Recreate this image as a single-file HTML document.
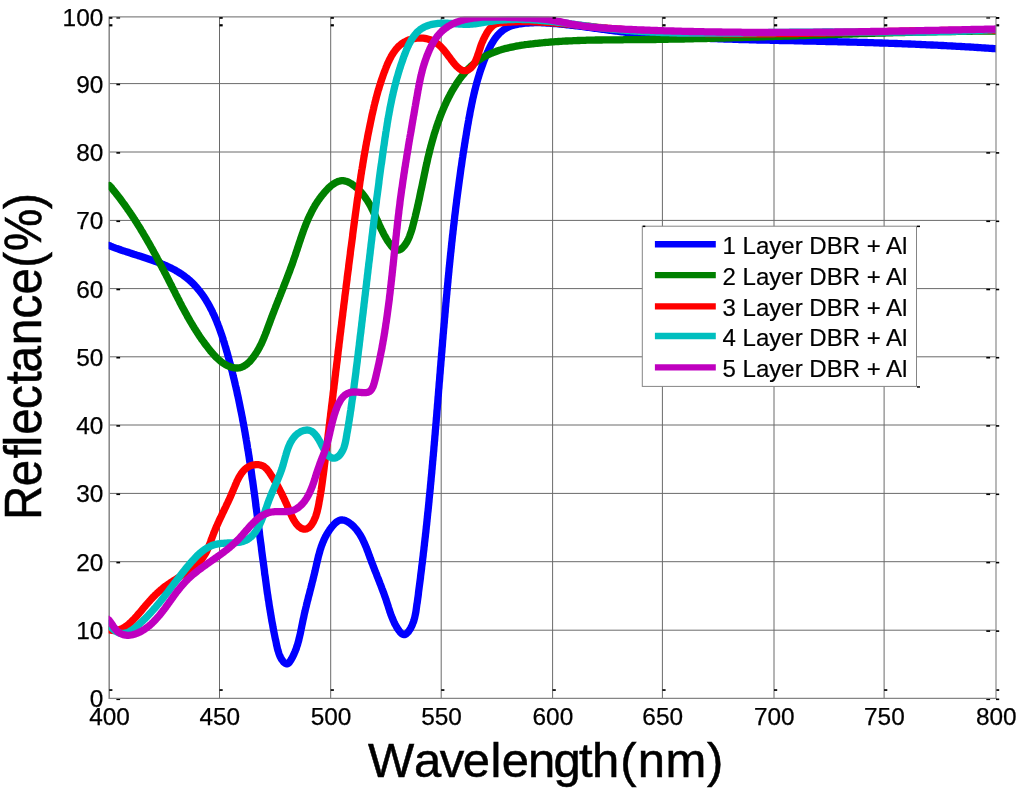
<!DOCTYPE html>
<html lang="en"><head><meta charset="utf-8"><title>Reflectance vs Wavelength</title>
<style>
html,body{margin:0;padding:0;background:#fff;}
body{width:1024px;height:792px;overflow:hidden;}
svg{display:block;}
text{font-family:"Liberation Sans",sans-serif;fill:#000;}
.tk{font-size:24.4px;stroke:#000;stroke-width:0.25px;}
.lab{font-size:49px;stroke:#000;stroke-width:0.5px;}
.leg{font-size:24px;stroke:#000;stroke-width:0.2px;}
.c{fill:none;stroke-width:7.3;stroke-linejoin:round;stroke-linecap:round;}
</style></head><body>
<svg width="1024" height="792" viewBox="0 0 1024 792">
<rect x="0" y="0" width="1024" height="792" fill="#fff"/>
<defs><clipPath id="ax"><rect x="108.6" y="16.6" width="887.4" height="682.1"/></clipPath></defs>
<g stroke="#6a6a6a" stroke-width="1">
<line x1="219.5" y1="16.9" x2="219.5" y2="698.4"/>
<line x1="330.7" y1="16.9" x2="330.7" y2="698.4"/>
<line x1="441.2" y1="16.9" x2="441.2" y2="698.4"/>
<line x1="552.6" y1="16.9" x2="552.6" y2="698.4"/>
<line x1="662.4" y1="16.9" x2="662.4" y2="698.4"/>
<line x1="774" y1="16.9" x2="774" y2="698.4"/>
<line x1="884.1" y1="16.9" x2="884.1" y2="698.4"/>
<line x1="109.2" y1="630.2" x2="996" y2="630.2"/>
<line x1="109.2" y1="561.7" x2="996" y2="561.7"/>
<line x1="109.2" y1="493.4" x2="996" y2="493.4"/>
<line x1="109.2" y1="425" x2="996" y2="425"/>
<line x1="109.2" y1="356.8" x2="996" y2="356.8"/>
<line x1="109.2" y1="288.6" x2="996" y2="288.6"/>
<line x1="109.2" y1="220.4" x2="996" y2="220.4"/>
<line x1="109.2" y1="152" x2="996" y2="152"/>
<line x1="109.2" y1="83.6" x2="996" y2="83.6"/>
</g>
<line x1="109.2" y1="16.4" x2="109.2" y2="698.9" stroke="#858585" stroke-width="1.5"/>
<g fill="#000">
<rect x="109.2" y="24.2" width="3.2" height="2.2"/>
<rect x="109.2" y="689.2" width="3.2" height="1.7"/>
<rect x="219.5" y="24.2" width="3.2" height="2.2"/>
<rect x="219.5" y="689.2" width="3.2" height="1.7"/>
<rect x="330.7" y="24.2" width="3.2" height="2.2"/>
<rect x="330.7" y="689.2" width="3.2" height="1.7"/>
<rect x="441.2" y="689.2" width="3.2" height="1.7"/>
<rect x="552.6" y="689.2" width="3.2" height="1.7"/>
<rect x="662.4" y="24.2" width="3.2" height="2.2"/>
<rect x="662.4" y="689.2" width="3.2" height="1.7"/>
<rect x="774" y="24.2" width="3.2" height="2.2"/>
<rect x="774" y="689.2" width="3.2" height="1.7"/>
<rect x="884.1" y="24.2" width="3.2" height="2.2"/>
<rect x="884.1" y="689.2" width="3.2" height="1.7"/>
<rect x="996" y="24.2" width="3.2" height="2.2"/>
<rect x="996" y="689.2" width="3.2" height="1.7"/>
<rect x="116.4" y="698.5" width="3.7" height="1.6"/>
<rect x="986.3" y="698.5" width="3.8" height="1.6"/>
<rect x="116.4" y="630.3" width="3.7" height="1.6"/>
<rect x="986.3" y="630.3" width="3.8" height="1.6"/>
<rect x="116.4" y="561.8" width="3.7" height="1.6"/>
<rect x="986.3" y="561.8" width="3.8" height="1.6"/>
<rect x="116.4" y="493.5" width="3.7" height="1.6"/>
<rect x="986.3" y="493.5" width="3.8" height="1.6"/>
<rect x="116.4" y="425.1" width="3.7" height="1.6"/>
<rect x="986.3" y="425.1" width="3.8" height="1.6"/>
<rect x="116.4" y="356.9" width="3.7" height="1.6"/>
<rect x="986.3" y="356.9" width="3.8" height="1.6"/>
<rect x="116.4" y="288.7" width="3.7" height="1.6"/>
<rect x="986.3" y="288.7" width="3.8" height="1.6"/>
<rect x="116.4" y="220.5" width="3.7" height="1.6"/>
<rect x="986.3" y="220.5" width="3.8" height="1.6"/>
<rect x="116.4" y="152.1" width="3.7" height="1.6"/>
<rect x="986.3" y="152.1" width="3.8" height="1.6"/>
<rect x="116.4" y="83.7" width="3.7" height="1.6"/>
<rect x="986.3" y="83.7" width="3.8" height="1.6"/>
<rect x="116.4" y="17" width="3.7" height="1.6"/>
<rect x="986.3" y="17" width="3.8" height="1.6"/>
</g>
<g clip-path="url(#ax)">
<path class="c" stroke="#0000ff" d="M109.3 245.5 L110.5 246.1 L111.8 246.6 L113.0 247.1 L114.3 247.6 L115.6 248.1 L117.0 248.6 L118.3 249.0 L119.7 249.5 L121.0 250.0 L122.4 250.5 L123.8 250.9 L125.2 251.4 L126.6 251.9 L128.1 252.3 L129.5 252.8 L130.9 253.2 L132.4 253.7 L133.8 254.2 L135.3 254.6 L136.7 255.1 L138.2 255.6 L139.7 256.0 L141.2 256.5 L142.6 257.0 L144.1 257.5 L145.6 258.0 L147.1 258.5 L148.5 259.0 L150.0 259.5 L151.5 260.0 L152.9 260.5 L154.4 261.0 L155.9 261.6 L157.3 262.1 L158.8 262.7 L160.2 263.2 L161.6 263.8 L163.1 264.4 L164.5 265.0 L165.9 265.6 L167.3 266.3 L168.7 266.9 L170.0 267.6 L171.4 268.2 L172.7 268.9 L174.0 269.6 L175.4 270.3 L176.6 271.1 L177.9 271.8 L179.2 272.6 L180.4 273.4 L181.7 274.2 L182.9 275.0 L184.0 275.9 L185.2 276.7 L186.3 277.6 L187.5 278.5 L188.6 279.5 L189.7 280.4 L190.7 281.4 L191.8 282.3 L192.8 283.3 L193.8 284.4 L194.8 285.4 L195.7 286.4 L196.7 287.5 L197.6 288.6 L198.5 289.7 L199.4 290.8 L200.3 291.9 L201.2 293.1 L202.0 294.2 L202.9 295.4 L203.7 296.6 L204.5 297.8 L205.3 299.0 L206.1 300.2 L206.8 301.5 L207.6 302.7 L208.3 304.0 L209.0 305.3 L209.7 306.6 L210.4 307.9 L211.1 309.2 L211.8 310.5 L212.4 311.8 L213.0 313.2 L213.7 314.5 L214.3 315.9 L214.9 317.2 L215.5 318.6 L216.1 320.0 L216.7 321.4 L217.2 322.8 L217.8 324.2 L218.3 325.6 L218.9 327.0 L219.4 328.4 L219.9 329.9 L220.4 331.3 L220.9 332.7 L221.4 334.2 L221.9 335.6 L222.4 337.1 L222.9 338.5 L223.3 340.0 L223.8 341.4 L224.2 342.9 L224.7 344.4 L225.1 345.8 L225.6 347.3 L226.0 348.8 L226.4 350.3 L226.8 351.7 L227.3 353.2 L227.7 354.7 L228.1 356.2 L228.5 357.6 L228.9 359.1 L229.3 360.6 L229.7 362.1 L230.1 363.5 L230.5 365.0 L230.8 366.5 L231.2 368.0 L231.6 369.4 L232.0 370.9 L232.4 372.4 L232.7 373.9 L233.1 375.3 L233.4 376.8 L233.8 378.3 L234.2 379.8 L234.5 381.2 L234.9 382.7 L235.2 384.2 L235.5 385.6 L235.9 387.1 L236.2 388.6 L236.6 390.1 L236.9 391.5 L237.2 393.0 L237.5 394.5 L237.9 396.0 L238.2 397.4 L238.5 398.9 L238.8 400.4 L239.1 401.8 L239.4 403.3 L239.7 404.8 L240.0 406.3 L240.3 407.7 L240.6 409.2 L240.9 410.7 L241.2 412.1 L241.5 413.6 L241.8 415.1 L242.1 416.6 L242.4 418.0 L242.6 419.5 L242.9 421.0 L243.2 422.4 L243.5 423.9 L243.7 425.4 L244.0 426.9 L244.3 428.3 L244.5 429.8 L244.8 431.3 L245.1 432.7 L245.3 434.2 L245.6 435.7 L245.8 437.2 L246.1 438.6 L246.3 440.1 L246.6 441.6 L246.8 443.0 L247.1 444.5 L247.3 446.0 L247.5 447.5 L247.8 448.9 L248.0 450.4 L248.3 451.9 L248.5 453.3 L248.7 454.8 L249.0 456.3 L249.2 457.8 L249.4 459.2 L249.6 460.7 L249.9 462.2 L250.1 463.6 L250.3 465.1 L250.5 466.6 L250.7 468.1 L251.0 469.5 L251.2 471.0 L251.4 472.5 L251.6 474.0 L251.8 475.4 L252.0 476.9 L252.2 478.4 L252.4 479.8 L252.7 481.3 L252.9 482.8 L253.1 484.3 L253.3 485.7 L253.5 487.2 L253.7 488.7 L253.9 490.2 L254.1 491.6 L254.3 493.1 L254.5 494.6 L254.7 496.1 L254.9 497.5 L255.1 499.0 L255.3 500.5 L255.5 502.0 L255.7 503.4 L255.8 504.9 L256.0 506.4 L256.2 507.9 L256.4 509.3 L256.6 510.8 L256.8 512.3 L257.0 513.8 L257.2 515.2 L257.4 516.7 L257.6 518.2 L257.8 519.7 L258.0 521.2 L258.1 522.6 L258.3 524.1 L258.5 525.6 L258.7 527.1 L258.9 528.5 L259.1 530.0 L259.3 531.5 L259.5 533.0 L259.6 534.5 L259.8 535.9 L260.0 537.4 L260.2 538.9 L260.4 540.4 L260.6 541.9 L260.8 543.3 L261.0 544.8 L261.2 546.3 L261.4 547.8 L261.5 549.3 L261.7 550.8 L261.9 552.2 L262.1 553.7 L262.3 555.2 L262.5 556.7 L262.7 558.2 L262.9 559.7 L263.1 561.1 L263.3 562.6 L263.5 564.1 L263.7 565.6 L263.9 567.1 L264.1 568.6 L264.3 570.1 L264.5 571.5 L264.6 573.0 L264.8 574.5 L265.1 576.0 L265.3 577.5 L265.5 579.0 L265.7 580.5 L265.9 582.0 L266.1 583.4 L266.3 584.9 L266.5 586.4 L266.7 587.9 L266.9 589.4 L267.1 590.9 L267.3 592.4 L267.5 593.9 L267.8 595.4 L268.0 596.9 L268.2 598.4 L268.4 599.9 L268.7 601.3 L268.9 602.8 L269.1 604.3 L269.3 605.8 L269.6 607.3 L269.8 608.8 L270.1 610.3 L270.3 611.8 L270.6 613.3 L270.8 614.8 L271.1 616.3 L271.3 617.8 L271.6 619.3 L271.8 620.8 L272.1 622.3 L272.4 623.8 L272.7 625.3 L272.9 626.8 L273.2 628.3 L273.5 629.8 L273.8 631.4 L274.1 632.9 L274.4 634.4 L274.7 635.9 L275.0 637.4 L275.3 638.9 L275.7 640.4 L276.0 641.9 L276.3 643.4 L276.6 645.0 L277.0 646.5 L277.3 648.0 L277.7 649.5 L278.1 650.9 L278.6 652.4 L279.0 653.8 L279.5 655.1 L280.1 656.5 L280.7 657.7 L281.4 659.0 L282.2 660.1 L283.0 661.2 L283.9 662.2 L284.9 663.1 L285.9 663.7 L286.9 663.9 L287.8 663.7 L288.7 663.0 L289.6 662.0 L290.4 660.8 L291.2 659.5 L291.9 658.2 L292.6 656.9 L293.3 655.6 L293.9 654.2 L294.5 652.8 L295.1 651.5 L295.6 650.1 L296.2 648.7 L296.6 647.2 L297.1 645.8 L297.6 644.4 L298.0 642.9 L298.4 641.5 L298.8 640.0 L299.1 638.5 L299.5 637.1 L299.8 635.6 L300.2 634.1 L300.5 632.6 L300.8 631.1 L301.1 629.6 L301.4 628.1 L301.7 626.6 L302.0 625.1 L302.3 623.7 L302.6 622.2 L302.9 620.7 L303.2 619.2 L303.6 617.7 L303.9 616.2 L304.2 614.8 L304.5 613.3 L304.9 611.8 L305.2 610.4 L305.6 608.9 L305.9 607.4 L306.3 606.0 L306.6 604.5 L307.0 603.1 L307.3 601.6 L307.7 600.2 L308.1 598.7 L308.4 597.3 L308.8 595.8 L309.2 594.4 L309.6 592.9 L309.9 591.5 L310.3 590.1 L310.7 588.6 L311.0 587.2 L311.4 585.7 L311.8 584.3 L312.1 582.9 L312.5 581.4 L312.9 580.0 L313.2 578.5 L313.6 577.1 L313.9 575.6 L314.3 574.2 L314.6 572.8 L315.0 571.3 L315.3 569.9 L315.6 568.4 L316.0 566.9 L316.3 565.5 L316.6 564.0 L317.0 562.6 L317.3 561.1 L317.6 559.7 L318.0 558.2 L318.3 556.8 L318.7 555.3 L319.1 553.9 L319.5 552.5 L319.9 551.0 L320.3 549.6 L320.8 548.2 L321.2 546.8 L321.7 545.4 L322.3 544.0 L322.8 542.6 L323.4 541.2 L324.0 539.8 L324.6 538.4 L325.3 537.1 L326.0 535.8 L326.7 534.4 L327.5 533.1 L328.3 531.8 L329.2 530.5 L330.0 529.2 L331.0 527.9 L332.0 526.7 L333.0 525.5 L334.1 524.3 L335.2 523.1 L336.4 522.1 L337.6 521.3 L338.8 520.6 L340.1 520.1 L341.4 519.9 L342.7 520.0 L344.0 520.2 L345.3 520.6 L346.6 521.2 L347.9 521.9 L349.1 522.7 L350.3 523.6 L351.5 524.5 L352.6 525.5 L353.7 526.5 L354.7 527.6 L355.7 528.7 L356.6 529.8 L357.5 531.0 L358.4 532.2 L359.2 533.4 L360.0 534.7 L360.8 536.0 L361.5 537.3 L362.2 538.6 L362.9 539.9 L363.5 541.3 L364.2 542.7 L364.8 544.1 L365.4 545.5 L366.0 546.9 L366.6 548.3 L367.1 549.8 L367.7 551.2 L368.2 552.6 L368.7 554.1 L369.3 555.5 L369.8 557.0 L370.3 558.4 L370.9 559.8 L371.4 561.3 L371.9 562.7 L372.5 564.1 L373.0 565.5 L373.5 566.9 L374.1 568.3 L374.6 569.7 L375.2 571.1 L375.7 572.4 L376.3 573.8 L376.8 575.2 L377.3 576.6 L377.9 578.0 L378.4 579.3 L379.0 580.7 L379.5 582.1 L380.0 583.5 L380.6 584.8 L381.1 586.2 L381.6 587.6 L382.1 589.0 L382.6 590.3 L383.2 591.7 L383.7 593.1 L384.2 594.5 L384.7 595.9 L385.2 597.3 L385.7 598.7 L386.2 600.1 L386.6 601.6 L387.1 603.0 L387.6 604.4 L388.1 605.9 L388.5 607.3 L389.0 608.8 L389.5 610.2 L389.9 611.7 L390.4 613.1 L390.9 614.6 L391.5 616.0 L392.0 617.4 L392.6 618.8 L393.2 620.2 L393.8 621.6 L394.4 623.0 L395.1 624.4 L395.9 625.7 L396.6 627.0 L397.4 628.3 L398.3 629.6 L399.2 630.9 L400.1 632.1 L401.1 633.1 L402.1 634.0 L403.2 634.5 L404.2 634.7 L405.3 634.4 L406.3 633.8 L407.3 632.9 L408.3 631.8 L409.2 630.5 L410.1 629.2 L410.9 627.7 L411.6 626.3 L412.3 624.9 L412.8 623.4 L413.4 622.0 L413.9 620.5 L414.3 619.1 L414.7 617.6 L415.0 616.1 L415.3 614.7 L415.6 613.2 L415.9 611.7 L416.1 610.2 L416.3 608.7 L416.5 607.3 L416.7 605.8 L416.9 604.3 L417.2 602.8 L417.4 601.3 L417.6 599.8 L417.8 598.3 L418.0 596.9 L418.2 595.4 L418.4 593.9 L418.5 592.4 L418.7 590.9 L418.9 589.4 L419.1 587.9 L419.3 586.5 L419.5 585.0 L419.7 583.5 L419.9 582.0 L420.1 580.5 L420.3 579.0 L420.5 577.5 L420.6 576.1 L420.8 574.6 L421.0 573.1 L421.2 571.6 L421.4 570.1 L421.6 568.6 L421.7 567.1 L421.9 565.6 L422.1 564.2 L422.3 562.7 L422.5 561.2 L422.6 559.7 L422.8 558.2 L423.0 556.7 L423.2 555.2 L423.3 553.7 L423.5 552.3 L423.7 550.8 L423.9 549.3 L424.0 547.8 L424.2 546.3 L424.4 544.8 L424.5 543.3 L424.7 541.8 L424.9 540.3 L425.0 538.9 L425.2 537.4 L425.4 535.9 L425.5 534.4 L425.7 532.9 L425.9 531.4 L426.0 529.9 L426.2 528.4 L426.3 526.9 L426.5 525.5 L426.7 524.0 L426.8 522.5 L427.0 521.0 L427.1 519.5 L427.3 518.0 L427.4 516.5 L427.6 515.0 L427.7 513.5 L427.9 512.0 L428.1 510.6 L428.2 509.1 L428.4 507.6 L428.5 506.1 L428.7 504.6 L428.8 503.1 L429.0 501.6 L429.1 500.1 L429.2 498.6 L429.4 497.1 L429.5 495.6 L429.7 494.2 L429.8 492.7 L430.0 491.2 L430.1 489.7 L430.3 488.2 L430.4 486.7 L430.5 485.2 L430.7 483.7 L430.8 482.2 L431.0 480.7 L431.1 479.2 L431.2 477.8 L431.4 476.3 L431.5 474.8 L431.7 473.3 L431.8 471.8 L431.9 470.3 L432.1 468.8 L432.2 467.3 L432.3 465.8 L432.5 464.3 L432.6 462.8 L432.7 461.3 L432.9 459.8 L433.0 458.3 L433.1 456.9 L433.3 455.4 L433.4 453.9 L433.5 452.4 L433.7 450.9 L433.8 449.4 L433.9 447.9 L434.0 446.4 L434.2 444.9 L434.3 443.4 L434.4 441.9 L434.6 440.4 L434.7 438.9 L434.8 437.4 L434.9 435.9 L435.1 434.5 L435.2 433.0 L435.3 431.5 L435.4 430.0 L435.6 428.5 L435.7 427.0 L435.8 425.5 L435.9 424.0 L436.1 422.5 L436.2 421.0 L436.3 419.5 L436.4 418.0 L436.6 416.5 L436.7 415.0 L436.8 413.5 L436.9 412.0 L437.0 410.5 L437.2 409.1 L437.3 407.6 L437.4 406.1 L437.5 404.6 L437.7 403.1 L437.8 401.6 L437.9 400.1 L438.0 398.6 L438.1 397.1 L438.3 395.6 L438.4 394.1 L438.5 392.6 L438.6 391.1 L438.7 389.6 L438.9 388.1 L439.0 386.6 L439.1 385.1 L439.2 383.6 L439.3 382.2 L439.5 380.7 L439.6 379.2 L439.7 377.7 L439.8 376.2 L439.9 374.7 L440.1 373.2 L440.2 371.7 L440.3 370.2 L440.4 368.7 L440.5 367.2 L440.7 365.7 L440.8 364.2 L440.9 362.7 L441.0 361.2 L441.2 359.7 L441.3 358.2 L441.4 356.7 L441.5 355.2 L441.6 353.8 L441.8 352.3 L441.9 350.8 L442.0 349.3 L442.1 347.8 L442.3 346.3 L442.4 344.8 L442.5 343.3 L442.6 341.8 L442.7 340.3 L442.9 338.8 L443.0 337.3 L443.1 335.8 L443.2 334.3 L443.4 332.8 L443.5 331.3 L443.6 329.8 L443.7 328.4 L443.9 326.9 L444.0 325.4 L444.1 323.9 L444.3 322.4 L444.4 320.9 L444.5 319.4 L444.6 317.9 L444.8 316.4 L444.9 314.9 L445.0 313.4 L445.2 311.9 L445.3 310.4 L445.4 308.9 L445.5 307.4 L445.7 305.9 L445.8 304.5 L445.9 303.0 L446.1 301.5 L446.2 300.0 L446.3 298.5 L446.5 297.0 L446.6 295.5 L446.8 294.0 L446.9 292.5 L447.0 291.0 L447.2 289.5 L447.3 288.0 L447.4 286.5 L447.6 285.0 L447.7 283.6 L447.9 282.1 L448.0 280.6 L448.1 279.1 L448.3 277.6 L448.4 276.1 L448.6 274.6 L448.7 273.1 L448.9 271.6 L449.0 270.1 L449.1 268.6 L449.3 267.1 L449.4 265.7 L449.6 264.2 L449.7 262.7 L449.9 261.2 L450.0 259.7 L450.2 258.2 L450.3 256.7 L450.5 255.2 L450.6 253.7 L450.8 252.2 L451.0 250.7 L451.1 249.3 L451.3 247.8 L451.4 246.3 L451.6 244.8 L451.7 243.3 L451.9 241.8 L452.1 240.3 L452.2 238.8 L452.4 237.3 L452.5 235.8 L452.7 234.4 L452.9 232.9 L453.0 231.4 L453.2 229.9 L453.4 228.4 L453.5 226.9 L453.7 225.4 L453.9 223.9 L454.1 222.4 L454.2 221.0 L454.4 219.5 L454.6 218.0 L454.7 216.5 L454.9 215.0 L455.1 213.5 L455.3 212.0 L455.5 210.5 L455.6 209.1 L455.8 207.6 L456.0 206.1 L456.2 204.6 L456.4 203.1 L456.6 201.6 L456.7 200.1 L456.9 198.7 L457.1 197.2 L457.3 195.7 L457.5 194.2 L457.7 192.7 L457.9 191.2 L458.1 189.7 L458.3 188.3 L458.5 186.8 L458.7 185.3 L458.9 183.8 L459.1 182.3 L459.3 180.8 L459.5 179.3 L459.7 177.9 L459.9 176.4 L460.1 174.9 L460.3 173.4 L460.5 171.9 L460.7 170.4 L460.9 169.0 L461.1 167.5 L461.4 166.0 L461.6 164.5 L461.8 163.0 L462.0 161.5 L462.2 160.1 L462.4 158.6 L462.7 157.1 L462.9 155.6 L463.1 154.1 L463.3 152.7 L463.6 151.2 L463.8 149.7 L464.0 148.2 L464.3 146.7 L464.5 145.3 L464.7 143.8 L465.0 142.3 L465.2 140.8 L465.4 139.3 L465.7 137.9 L465.9 136.4 L466.2 134.9 L466.4 133.4 L466.6 131.9 L466.9 130.5 L467.1 129.0 L467.4 127.5 L467.6 126.0 L467.9 124.5 L468.2 123.1 L468.4 121.6 L468.7 120.1 L468.9 118.6 L469.2 117.2 L469.5 115.7 L469.8 114.2 L470.0 112.7 L470.3 111.3 L470.6 109.8 L470.9 108.3 L471.2 106.9 L471.5 105.4 L471.8 103.9 L472.1 102.5 L472.4 101.0 L472.7 99.5 L473.0 98.1 L473.4 96.6 L473.7 95.1 L474.0 93.7 L474.4 92.2 L474.7 90.8 L475.1 89.3 L475.5 87.9 L475.8 86.4 L476.2 85.0 L476.6 83.5 L477.0 82.1 L477.4 80.6 L477.8 79.2 L478.3 77.7 L478.7 76.3 L479.1 74.9 L479.6 73.4 L480.0 72.0 L480.5 70.6 L481.0 69.1 L481.5 67.7 L482.0 66.3 L482.5 64.9 L483.0 63.5 L483.5 62.0 L484.1 60.6 L484.6 59.2 L485.2 57.8 L485.7 56.4 L486.3 55.0 L486.9 53.6 L487.5 52.2 L488.2 50.8 L488.8 49.5 L489.5 48.1 L490.1 46.7 L490.8 45.4 L491.5 44.1 L492.3 42.8 L493.1 41.5 L493.9 40.3 L494.7 39.1 L495.5 37.9 L496.4 36.8 L497.3 35.6 L498.3 34.6 L499.3 33.5 L500.3 32.5 L501.4 31.6 L502.5 30.7 L503.6 29.8 L504.8 29.0 L506.0 28.3 L507.3 27.6 L508.6 27.0 L510.0 26.4 L511.4 25.9 L512.9 25.4 L514.4 25.0 L515.9 24.6 L517.4 24.3 L519.0 24.0 L520.5 23.8 L522.1 23.6 L523.7 23.4 L525.3 23.2 L526.8 23.1 L528.4 23.0 L529.9 22.9 L531.5 22.8 L533.0 22.8 L534.5 22.7 L536.0 22.7 L537.5 22.7 L539.0 22.7 L540.5 22.7 L542.0 22.8 L543.5 22.8 L545.0 22.9 L546.5 23.0 L548.0 23.1 L549.4 23.2 L550.9 23.3 L552.4 23.4 L553.8 23.5 L555.3 23.6 L556.8 23.7 L558.2 23.9 L559.7 24.0 L561.2 24.1 L562.6 24.3 L564.1 24.4 L565.6 24.6 L567.0 24.8 L568.5 24.9 L570.0 25.1 L571.5 25.3 L572.9 25.4 L574.4 25.6 L575.9 25.8 L577.3 26.0 L578.8 26.2 L580.3 26.3 L581.8 26.5 L583.2 26.7 L584.7 26.9 L586.2 27.1 L587.6 27.3 L589.1 27.5 L590.6 27.7 L592.1 27.9 L593.5 28.1 L595.0 28.3 L596.5 28.5 L598.0 28.7 L599.4 28.9 L600.9 29.1 L602.4 29.3 L603.9 29.5 L605.3 29.7 L606.8 29.9 L608.3 30.1 L609.8 30.3 L611.2 30.5 L612.7 30.7 L614.2 30.9 L615.7 31.0 L617.1 31.2 L618.6 31.4 L620.1 31.6 L621.6 31.8 L623.1 31.9 L624.5 32.1 L626.0 32.3 L627.5 32.4 L629.0 32.6 L630.5 32.8 L632.0 32.9 L633.4 33.1 L634.9 33.2 L636.4 33.4 L637.9 33.5 L639.4 33.7 L640.9 33.8 L642.3 34.0 L643.8 34.1 L645.3 34.2 L646.8 34.4 L648.3 34.5 L649.8 34.6 L651.3 34.8 L652.7 34.9 L654.2 35.0 L655.7 35.2 L657.2 35.3 L658.7 35.4 L660.2 35.5 L661.7 35.6 L663.2 35.7 L664.6 35.8 L666.1 36.0 L667.6 36.1 L669.1 36.2 L670.6 36.3 L672.1 36.4 L673.6 36.5 L675.1 36.6 L676.6 36.7 L678.1 36.8 L679.5 36.9 L681.0 37.0 L682.5 37.0 L684.0 37.1 L685.5 37.2 L687.0 37.3 L688.5 37.4 L690.0 37.5 L691.5 37.6 L693.0 37.6 L694.5 37.7 L696.0 37.8 L697.5 37.9 L699.0 37.9 L700.4 38.0 L701.9 38.1 L703.4 38.1 L704.9 38.2 L706.4 38.3 L707.9 38.3 L709.4 38.4 L710.9 38.5 L712.4 38.5 L713.9 38.6 L715.4 38.7 L716.9 38.7 L718.4 38.8 L719.9 38.8 L721.4 38.9 L722.9 38.9 L724.4 39.0 L725.9 39.0 L727.4 39.1 L728.9 39.1 L730.4 39.2 L731.9 39.2 L733.4 39.3 L734.9 39.3 L736.4 39.4 L737.9 39.4 L739.4 39.5 L740.8 39.5 L742.3 39.6 L743.8 39.6 L745.3 39.6 L746.8 39.7 L748.3 39.7 L749.8 39.8 L751.3 39.8 L752.8 39.8 L754.3 39.9 L755.8 39.9 L757.3 40.0 L758.8 40.0 L760.3 40.0 L761.8 40.1 L763.3 40.1 L764.8 40.1 L766.3 40.2 L767.8 40.2 L769.3 40.2 L770.8 40.3 L772.3 40.3 L773.8 40.3 L775.3 40.4 L776.8 40.4 L778.3 40.4 L779.8 40.5 L781.3 40.5 L782.8 40.5 L784.3 40.6 L785.8 40.6 L787.3 40.6 L788.8 40.6 L790.3 40.7 L791.8 40.7 L793.3 40.7 L794.8 40.8 L796.3 40.8 L797.8 40.8 L799.3 40.9 L800.8 40.9 L802.3 40.9 L803.8 41.0 L805.3 41.0 L806.8 41.0 L808.3 41.1 L809.8 41.1 L811.3 41.1 L812.8 41.2 L814.3 41.2 L815.8 41.2 L817.3 41.3 L818.8 41.3 L820.3 41.3 L821.8 41.4 L823.3 41.4 L824.8 41.4 L826.3 41.5 L827.8 41.5 L829.3 41.5 L830.8 41.6 L832.3 41.6 L833.8 41.6 L835.3 41.7 L836.8 41.7 L838.3 41.8 L839.8 41.8 L841.3 41.8 L842.8 41.9 L844.3 41.9 L845.8 41.9 L847.3 42.0 L848.8 42.0 L850.3 42.1 L851.8 42.1 L853.3 42.1 L854.8 42.2 L856.3 42.2 L857.8 42.3 L859.3 42.3 L860.8 42.4 L862.3 42.4 L863.8 42.4 L865.3 42.5 L866.8 42.5 L868.3 42.6 L869.8 42.6 L871.3 42.7 L872.8 42.7 L874.3 42.8 L875.7 42.8 L877.2 42.9 L878.7 42.9 L880.2 43.0 L881.7 43.0 L883.2 43.1 L884.7 43.1 L886.2 43.2 L887.7 43.2 L889.2 43.3 L890.7 43.3 L892.2 43.4 L893.7 43.4 L895.2 43.5 L896.7 43.5 L898.2 43.6 L899.7 43.6 L901.2 43.7 L902.7 43.8 L904.2 43.8 L905.7 43.9 L907.2 43.9 L908.7 44.0 L910.2 44.0 L911.7 44.1 L913.2 44.2 L914.7 44.2 L916.2 44.3 L917.7 44.4 L919.2 44.4 L920.7 44.5 L922.2 44.6 L923.7 44.6 L925.2 44.7 L926.7 44.8 L928.2 44.8 L929.7 44.9 L931.2 45.0 L932.6 45.0 L934.1 45.1 L935.6 45.2 L937.1 45.2 L938.6 45.3 L940.1 45.4 L941.6 45.5 L943.1 45.5 L944.6 45.6 L946.1 45.7 L947.6 45.8 L949.1 45.8 L950.6 45.9 L952.1 46.0 L953.6 46.1 L955.1 46.2 L956.6 46.3 L958.1 46.3 L959.6 46.4 L961.1 46.5 L962.6 46.6 L964.1 46.7 L965.6 46.8 L967.1 46.9 L968.6 46.9 L970.1 47.0 L971.6 47.1 L973.1 47.2 L974.6 47.3 L976.1 47.4 L977.5 47.5 L979.0 47.6 L980.5 47.7 L982.0 47.8 L983.5 47.9 L985.0 48.0 L986.5 48.1 L988.0 48.2 L989.5 48.3 L991.0 48.4 L992.5 48.5 L994.0 48.6 L995.5 48.7 L997.0 48.8"/>
<path class="c" stroke="#008000" d="M109.5 185.6 L110.5 186.7 L111.5 187.8 L112.4 189.0 L113.3 190.1 L114.3 191.3 L115.2 192.4 L116.1 193.6 L117.1 194.8 L118.0 196.0 L118.9 197.1 L119.8 198.3 L120.7 199.5 L121.6 200.7 L122.4 201.9 L123.3 203.1 L124.2 204.3 L125.1 205.5 L125.9 206.7 L126.8 207.9 L127.6 209.2 L128.5 210.4 L129.3 211.6 L130.2 212.8 L131.0 214.1 L131.8 215.3 L132.7 216.6 L133.5 217.8 L134.3 219.1 L135.1 220.3 L135.9 221.6 L136.7 222.8 L137.5 224.1 L138.3 225.4 L139.1 226.6 L139.9 227.9 L140.7 229.2 L141.4 230.5 L142.2 231.7 L143.0 233.0 L143.7 234.3 L144.5 235.6 L145.3 236.9 L146.0 238.2 L146.8 239.5 L147.5 240.8 L148.3 242.1 L149.0 243.4 L149.8 244.7 L150.5 246.0 L151.2 247.3 L152.0 248.6 L152.7 249.9 L153.4 251.3 L154.1 252.6 L154.9 253.9 L155.6 255.2 L156.3 256.5 L157.0 257.8 L157.7 259.2 L158.4 260.5 L159.1 261.8 L159.8 263.2 L160.5 264.5 L161.2 265.8 L161.9 267.1 L162.6 268.5 L163.3 269.8 L164.0 271.1 L164.7 272.5 L165.4 273.8 L166.1 275.1 L166.8 276.5 L167.5 277.8 L168.2 279.2 L168.8 280.5 L169.5 281.8 L170.2 283.2 L170.9 284.5 L171.6 285.8 L172.2 287.2 L172.9 288.5 L173.6 289.9 L174.3 291.2 L175.0 292.5 L175.6 293.9 L176.3 295.2 L177.0 296.5 L177.7 297.9 L178.4 299.2 L179.1 300.5 L179.7 301.9 L180.4 303.2 L181.1 304.5 L181.8 305.9 L182.5 307.2 L183.2 308.5 L183.9 309.8 L184.6 311.1 L185.3 312.4 L186.1 313.8 L186.8 315.1 L187.5 316.4 L188.2 317.7 L189.0 319.0 L189.7 320.3 L190.4 321.6 L191.2 322.8 L192.0 324.1 L192.7 325.4 L193.5 326.7 L194.3 328.0 L195.1 329.2 L195.9 330.5 L196.7 331.7 L197.5 333.0 L198.3 334.2 L199.1 335.5 L199.9 336.7 L200.8 338.0 L201.6 339.2 L202.5 340.4 L203.4 341.6 L204.2 342.8 L205.1 344.0 L206.0 345.2 L207.0 346.4 L207.9 347.6 L208.8 348.8 L209.8 350.0 L210.7 351.2 L211.7 352.3 L212.7 353.5 L213.7 354.6 L214.7 355.7 L215.7 356.8 L216.8 357.9 L217.9 358.9 L219.0 359.9 L220.1 360.9 L221.3 361.8 L222.5 362.7 L223.7 363.5 L224.9 364.3 L226.2 365.0 L227.6 365.7 L228.9 366.3 L230.3 366.8 L231.8 367.3 L233.2 367.6 L234.7 367.9 L236.1 368.0 L237.5 368.0 L238.9 367.9 L240.3 367.6 L241.6 367.2 L242.9 366.7 L244.1 366.0 L245.4 365.2 L246.5 364.4 L247.7 363.4 L248.8 362.4 L249.9 361.3 L250.9 360.1 L251.9 358.9 L252.9 357.7 L253.8 356.5 L254.7 355.2 L255.6 353.9 L256.4 352.6 L257.2 351.3 L258.0 350.0 L258.7 348.7 L259.4 347.4 L260.1 346.1 L260.8 344.7 L261.5 343.4 L262.1 342.0 L262.7 340.6 L263.3 339.3 L263.9 337.9 L264.4 336.5 L265.0 335.1 L265.5 333.8 L266.1 332.4 L266.6 331.0 L267.1 329.6 L267.6 328.2 L268.1 326.8 L268.6 325.4 L269.2 324.0 L269.7 322.6 L270.2 321.2 L270.7 319.8 L271.2 318.4 L271.8 317.0 L272.3 315.6 L272.8 314.2 L273.4 312.8 L273.9 311.4 L274.4 310.0 L275.0 308.6 L275.5 307.2 L276.1 305.8 L276.6 304.4 L277.2 303.0 L277.7 301.6 L278.3 300.2 L278.8 298.8 L279.4 297.5 L279.9 296.1 L280.5 294.7 L281.0 293.3 L281.6 291.9 L282.1 290.5 L282.7 289.1 L283.2 287.7 L283.8 286.3 L284.3 284.9 L284.9 283.5 L285.4 282.1 L286.0 280.7 L286.5 279.3 L287.0 277.9 L287.6 276.5 L288.1 275.1 L288.6 273.7 L289.2 272.3 L289.7 270.9 L290.2 269.5 L290.7 268.1 L291.2 266.7 L291.8 265.3 L292.3 263.9 L292.8 262.4 L293.3 261.0 L293.7 259.6 L294.2 258.2 L294.7 256.8 L295.2 255.4 L295.7 253.9 L296.1 252.5 L296.6 251.1 L297.1 249.7 L297.5 248.2 L298.0 246.8 L298.5 245.4 L298.9 244.0 L299.4 242.6 L299.9 241.1 L300.4 239.7 L300.8 238.3 L301.3 236.9 L301.8 235.5 L302.3 234.1 L302.8 232.7 L303.3 231.2 L303.8 229.8 L304.3 228.5 L304.8 227.1 L305.4 225.7 L305.9 224.3 L306.5 222.9 L307.1 221.5 L307.6 220.2 L308.2 218.8 L308.8 217.4 L309.5 216.1 L310.1 214.7 L310.8 213.4 L311.4 212.1 L312.1 210.7 L312.8 209.4 L313.5 208.1 L314.3 206.8 L315.0 205.5 L315.8 204.2 L316.6 203.0 L317.5 201.7 L318.3 200.4 L319.2 199.2 L320.1 197.9 L321.0 196.7 L321.9 195.5 L322.9 194.3 L323.9 193.1 L324.9 191.9 L326.0 190.7 L327.0 189.6 L328.1 188.4 L329.3 187.4 L330.4 186.3 L331.6 185.3 L332.8 184.4 L334.0 183.6 L335.3 182.8 L336.5 182.2 L337.8 181.6 L339.1 181.2 L340.4 180.9 L341.7 180.7 L343.0 180.7 L344.4 180.9 L345.7 181.2 L347.1 181.6 L348.5 182.2 L349.8 182.9 L351.1 183.6 L352.4 184.5 L353.7 185.4 L355.0 186.4 L356.2 187.4 L357.3 188.4 L358.4 189.5 L359.5 190.6 L360.6 191.7 L361.6 192.8 L362.5 193.9 L363.5 195.1 L364.4 196.3 L365.2 197.5 L366.1 198.7 L366.9 199.9 L367.7 201.2 L368.5 202.5 L369.2 203.7 L370.0 205.0 L370.7 206.3 L371.4 207.7 L372.0 209.0 L372.7 210.3 L373.4 211.7 L374.0 213.1 L374.6 214.4 L375.3 215.8 L375.9 217.2 L376.5 218.6 L377.1 220.0 L377.8 221.4 L378.4 222.8 L379.0 224.2 L379.6 225.6 L380.3 227.0 L380.9 228.4 L381.6 229.8 L382.3 231.1 L383.0 232.5 L383.7 233.9 L384.4 235.2 L385.2 236.6 L385.9 237.9 L386.7 239.3 L387.5 240.6 L388.4 241.9 L389.3 243.1 L390.2 244.4 L391.1 245.6 L392.0 246.7 L393.0 247.7 L394.0 248.6 L395.0 249.4 L396.0 249.9 L397.1 250.2 L398.1 250.2 L399.1 250.0 L400.2 249.5 L401.2 248.9 L402.2 248.1 L403.1 247.1 L404.0 246.1 L404.8 245.1 L405.6 244.0 L406.4 242.8 L407.1 241.6 L407.8 240.3 L408.4 239.0 L409.0 237.6 L409.6 236.2 L410.1 234.7 L410.6 233.3 L411.1 231.8 L411.6 230.3 L412.1 228.7 L412.5 227.2 L412.9 225.6 L413.3 224.1 L413.7 222.5 L414.1 221.0 L414.5 219.4 L414.9 217.9 L415.3 216.3 L415.6 214.8 L416.0 213.3 L416.4 211.7 L416.7 210.2 L417.1 208.7 L417.4 207.2 L417.7 205.7 L418.1 204.2 L418.4 202.7 L418.7 201.2 L419.1 199.7 L419.4 198.2 L419.7 196.7 L420.0 195.2 L420.3 193.7 L420.6 192.3 L420.9 190.8 L421.3 189.3 L421.6 187.8 L421.9 186.4 L422.2 184.9 L422.5 183.5 L422.8 182.0 L423.1 180.6 L423.4 179.1 L423.7 177.7 L424.0 176.2 L424.3 174.8 L424.6 173.3 L424.9 171.9 L425.2 170.5 L425.5 169.0 L425.8 167.6 L426.1 166.2 L426.4 164.7 L426.8 163.3 L427.1 161.9 L427.4 160.5 L427.7 159.0 L428.0 157.6 L428.4 156.2 L428.7 154.8 L429.1 153.4 L429.4 152.0 L429.8 150.5 L430.1 149.1 L430.5 147.7 L430.8 146.3 L431.2 144.9 L431.6 143.5 L432.0 142.1 L432.4 140.6 L432.8 139.2 L433.2 137.8 L433.6 136.4 L434.0 135.0 L434.4 133.6 L434.9 132.2 L435.3 130.8 L435.8 129.3 L436.2 127.9 L436.7 126.5 L437.2 125.1 L437.7 123.7 L438.1 122.3 L438.7 120.8 L439.2 119.4 L439.7 118.0 L440.2 116.6 L440.8 115.1 L441.3 113.7 L441.9 112.3 L442.5 110.9 L443.1 109.4 L443.7 108.0 L444.3 106.6 L444.9 105.2 L445.6 103.8 L446.2 102.3 L446.9 100.9 L447.6 99.5 L448.3 98.1 L449.0 96.7 L449.7 95.4 L450.4 94.0 L451.2 92.6 L451.9 91.3 L452.7 89.9 L453.5 88.6 L454.3 87.3 L455.1 85.9 L455.9 84.7 L456.7 83.4 L457.6 82.1 L458.5 80.8 L459.3 79.6 L460.2 78.4 L461.1 77.2 L462.1 76.0 L463.0 74.8 L464.0 73.7 L464.9 72.5 L465.9 71.4 L466.9 70.3 L468.0 69.2 L469.0 68.2 L470.1 67.2 L471.1 66.2 L472.2 65.2 L473.3 64.2 L474.4 63.3 L475.6 62.4 L476.7 61.5 L477.9 60.7 L479.1 59.9 L480.3 59.1 L481.5 58.3 L482.8 57.6 L484.0 56.8 L485.3 56.2 L486.6 55.5 L487.9 54.9 L489.2 54.2 L490.5 53.6 L491.9 53.1 L493.2 52.5 L494.6 52.0 L496.0 51.5 L497.3 51.0 L498.7 50.5 L500.1 50.1 L501.6 49.6 L503.0 49.2 L504.4 48.8 L505.9 48.4 L507.3 48.1 L508.8 47.7 L510.2 47.4 L511.7 47.1 L513.2 46.8 L514.7 46.5 L516.2 46.2 L517.7 45.9 L519.2 45.7 L520.7 45.4 L522.2 45.2 L523.7 45.0 L525.2 44.7 L526.7 44.5 L528.2 44.3 L529.7 44.1 L531.2 44.0 L532.7 43.8 L534.2 43.6 L535.8 43.4 L537.3 43.3 L538.8 43.1 L540.3 43.0 L541.8 42.8 L543.3 42.7 L544.8 42.5 L546.3 42.4 L547.8 42.3 L549.3 42.1 L550.8 42.0 L552.3 41.9 L553.8 41.8 L555.4 41.7 L556.9 41.6 L558.4 41.5 L559.9 41.4 L561.4 41.3 L562.9 41.2 L564.4 41.1 L565.9 41.0 L567.4 41.0 L568.9 40.9 L570.4 40.8 L571.9 40.8 L573.4 40.7 L574.8 40.6 L576.3 40.6 L577.8 40.5 L579.3 40.5 L580.8 40.4 L582.3 40.4 L583.8 40.3 L585.3 40.3 L586.8 40.2 L588.3 40.2 L589.8 40.2 L591.3 40.1 L592.8 40.1 L594.3 40.1 L595.8 40.0 L597.3 40.0 L598.8 40.0 L600.3 40.0 L601.7 40.0 L603.2 39.9 L604.7 39.9 L606.2 39.9 L607.7 39.9 L609.2 39.9 L610.7 39.8 L612.2 39.8 L613.7 39.8 L615.2 39.8 L616.7 39.8 L618.1 39.8 L619.6 39.8 L621.1 39.8 L622.6 39.8 L624.1 39.7 L625.6 39.7 L627.1 39.7 L628.6 39.7 L630.1 39.7 L631.6 39.7 L633.1 39.7 L634.6 39.7 L636.0 39.7 L637.5 39.7 L639.0 39.6 L640.5 39.6 L642.0 39.6 L643.5 39.6 L645.0 39.6 L646.5 39.6 L648.0 39.5 L649.5 39.5 L651.0 39.5 L652.5 39.5 L654.0 39.5 L655.4 39.5 L656.9 39.4 L658.4 39.4 L659.9 39.4 L661.4 39.4 L662.9 39.3 L664.4 39.3 L665.9 39.3 L667.4 39.3 L668.9 39.2 L670.4 39.2 L671.9 39.2 L673.4 39.2 L674.9 39.1 L676.4 39.1 L677.9 39.1 L679.4 39.1 L680.9 39.0 L682.3 39.0 L683.8 39.0 L685.3 38.9 L686.8 38.9 L688.3 38.9 L689.8 38.8 L691.3 38.8 L692.8 38.8 L694.3 38.7 L695.8 38.7 L697.3 38.7 L698.8 38.6 L700.3 38.6 L701.8 38.6 L703.3 38.5 L704.8 38.5 L706.3 38.5 L707.8 38.4 L709.3 38.4 L710.8 38.3 L712.3 38.3 L713.8 38.3 L715.3 38.2 L716.8 38.2 L718.3 38.2 L719.8 38.1 L721.3 38.1 L722.8 38.0 L724.3 38.0 L725.8 37.9 L727.3 37.9 L728.8 37.9 L730.3 37.8 L731.8 37.8 L733.3 37.7 L734.7 37.7 L736.2 37.7 L737.7 37.6 L739.2 37.6 L740.7 37.5 L742.2 37.5 L743.7 37.4 L745.2 37.4 L746.7 37.3 L748.2 37.3 L749.7 37.3 L751.2 37.2 L752.7 37.2 L754.2 37.1 L755.7 37.1 L757.2 37.0 L758.7 37.0 L760.2 36.9 L761.7 36.9 L763.2 36.8 L764.7 36.8 L766.2 36.7 L767.7 36.7 L769.2 36.6 L770.7 36.6 L772.2 36.5 L773.7 36.5 L775.2 36.4 L776.7 36.4 L778.2 36.4 L779.7 36.3 L781.2 36.3 L782.7 36.2 L784.2 36.2 L785.7 36.1 L787.2 36.1 L788.7 36.0 L790.2 36.0 L791.7 35.9 L793.2 35.9 L794.7 35.8 L796.2 35.8 L797.7 35.7 L799.2 35.7 L800.7 35.6 L802.2 35.6 L803.7 35.5 L805.2 35.5 L806.7 35.4 L808.2 35.4 L809.7 35.3 L811.2 35.3 L812.7 35.2 L814.2 35.2 L815.7 35.1 L817.2 35.1 L818.7 35.0 L820.2 35.0 L821.7 34.9 L823.2 34.9 L824.7 34.8 L826.2 34.8 L827.7 34.7 L829.2 34.7 L830.7 34.6 L832.2 34.6 L833.7 34.5 L835.2 34.5 L836.7 34.4 L838.2 34.4 L839.7 34.3 L841.2 34.3 L842.7 34.2 L844.2 34.2 L845.7 34.1 L847.2 34.1 L848.7 34.0 L850.2 34.0 L851.7 34.0 L853.2 33.9 L854.7 33.9 L856.2 33.8 L857.7 33.8 L859.2 33.7 L860.7 33.7 L862.2 33.6 L863.7 33.6 L865.2 33.5 L866.7 33.5 L868.2 33.4 L869.7 33.4 L871.2 33.4 L872.7 33.3 L874.2 33.3 L875.7 33.2 L877.2 33.2 L878.7 33.1 L880.2 33.1 L881.7 33.1 L883.2 33.0 L884.7 33.0 L886.2 32.9 L887.7 32.9 L889.2 32.8 L890.7 32.8 L892.2 32.8 L893.7 32.7 L895.2 32.7 L896.7 32.6 L898.2 32.6 L899.7 32.6 L901.2 32.5 L902.7 32.5 L904.2 32.5 L905.7 32.4 L907.2 32.4 L908.7 32.3 L910.2 32.3 L911.7 32.3 L913.2 32.2 L914.7 32.2 L916.2 32.2 L917.7 32.1 L919.2 32.1 L920.7 32.1 L922.2 32.0 L923.7 32.0 L925.2 32.0 L926.7 31.9 L928.2 31.9 L929.7 31.9 L931.2 31.9 L932.7 31.8 L934.2 31.8 L935.7 31.8 L937.2 31.7 L938.7 31.7 L940.2 31.7 L941.6 31.7 L943.1 31.6 L944.6 31.6 L946.1 31.6 L947.6 31.6 L949.1 31.5 L950.6 31.5 L952.1 31.5 L953.6 31.5 L955.1 31.5 L956.6 31.4 L958.1 31.4 L959.6 31.4 L961.1 31.4 L962.6 31.4 L964.1 31.3 L965.6 31.3 L967.1 31.3 L968.6 31.3 L970.1 31.3 L971.6 31.3 L973.0 31.2 L974.5 31.2 L976.0 31.2 L977.5 31.2 L979.0 31.2 L980.5 31.2 L982.0 31.2 L983.5 31.2 L985.0 31.2 L986.5 31.1 L988.0 31.1 L989.5 31.1 L991.0 31.1 L992.5 31.1 L994.0 31.1 L995.4 31.1 L996.9 31.1"/>
<path class="c" stroke="#ff0000" d="M107.9 629.4 L109.4 629.9 L110.9 630.2 L112.3 630.4 L113.7 630.5 L115.1 630.5 L116.5 630.3 L117.9 630.1 L119.2 629.7 L120.5 629.3 L121.8 628.7 L123.0 628.1 L124.3 627.4 L125.5 626.6 L126.7 625.8 L127.9 624.9 L129.0 623.9 L130.2 622.9 L131.3 621.8 L132.4 620.7 L133.5 619.6 L134.6 618.4 L135.6 617.3 L136.7 616.1 L137.7 614.9 L138.7 613.7 L139.8 612.5 L140.8 611.3 L141.8 610.1 L142.8 608.9 L143.7 607.7 L144.7 606.6 L145.7 605.4 L146.7 604.3 L147.6 603.2 L148.6 602.1 L149.6 601.0 L150.6 599.9 L151.6 598.8 L152.6 597.7 L153.6 596.7 L154.6 595.6 L155.6 594.6 L156.7 593.6 L157.7 592.6 L158.8 591.6 L159.9 590.7 L161.0 589.7 L162.2 588.8 L163.3 587.9 L164.5 586.9 L165.7 586.1 L166.9 585.2 L168.2 584.3 L169.4 583.5 L170.7 582.6 L171.9 581.8 L173.2 580.9 L174.5 580.1 L175.8 579.3 L177.1 578.4 L178.4 577.6 L179.7 576.8 L180.9 576.0 L182.2 575.2 L183.5 574.3 L184.8 573.5 L186.0 572.6 L187.3 571.8 L188.5 570.9 L189.7 570.1 L190.9 569.2 L192.1 568.3 L193.2 567.4 L194.3 566.5 L195.4 565.5 L196.5 564.6 L197.6 563.6 L198.6 562.6 L199.6 561.5 L200.5 560.5 L201.5 559.4 L202.4 558.2 L203.2 557.1 L204.0 555.9 L204.8 554.6 L205.6 553.3 L206.3 552.0 L207.0 550.6 L207.6 549.2 L208.2 547.8 L208.8 546.4 L209.4 544.9 L209.9 543.5 L210.5 542.0 L211.0 540.5 L211.5 539.0 L212.1 537.6 L212.6 536.1 L213.2 534.7 L213.7 533.2 L214.3 531.8 L214.9 530.4 L215.4 529.1 L216.0 527.7 L216.6 526.3 L217.2 525.0 L217.8 523.6 L218.4 522.3 L219.0 520.9 L219.6 519.6 L220.3 518.3 L220.9 517.0 L221.5 515.7 L222.1 514.4 L222.7 513.0 L223.4 511.7 L224.0 510.4 L224.6 509.1 L225.3 507.8 L225.9 506.5 L226.5 505.1 L227.1 503.8 L227.8 502.5 L228.4 501.1 L229.0 499.8 L229.7 498.4 L230.3 497.0 L230.9 495.6 L231.5 494.2 L232.1 492.8 L232.7 491.4 L233.3 490.0 L233.9 488.5 L234.5 487.1 L235.1 485.6 L235.8 484.1 L236.4 482.7 L237.0 481.2 L237.7 479.8 L238.4 478.4 L239.1 477.1 L239.9 475.7 L240.7 474.5 L241.5 473.2 L242.4 472.1 L243.3 471.0 L244.3 469.9 L245.3 469.0 L246.4 468.1 L247.6 467.3 L248.8 466.6 L250.1 465.9 L251.5 465.4 L252.9 465.0 L254.4 464.8 L255.9 464.6 L257.3 464.6 L258.8 464.7 L260.2 465.0 L261.6 465.4 L263.0 466.0 L264.2 466.7 L265.4 467.7 L266.5 468.7 L267.5 469.9 L268.5 471.2 L269.4 472.5 L270.3 473.8 L271.1 475.1 L271.9 476.4 L272.8 477.7 L273.6 479.0 L274.3 480.3 L275.1 481.6 L275.8 482.8 L276.6 484.1 L277.3 485.4 L278.0 486.6 L278.7 487.9 L279.4 489.2 L280.0 490.4 L280.7 491.7 L281.3 493.0 L282.0 494.3 L282.6 495.6 L283.2 496.9 L283.9 498.2 L284.5 499.6 L285.1 500.9 L285.7 502.3 L286.4 503.7 L287.0 505.1 L287.6 506.5 L288.2 508.0 L288.9 509.5 L289.5 511.0 L290.2 512.5 L290.8 514.0 L291.5 515.5 L292.2 517.0 L293.0 518.5 L293.7 519.9 L294.5 521.2 L295.4 522.5 L296.2 523.7 L297.2 524.9 L298.1 525.9 L299.2 526.8 L300.3 527.6 L301.4 528.3 L302.6 528.8 L303.8 529.1 L304.9 529.2 L306.1 529.0 L307.2 528.6 L308.2 528.1 L309.2 527.3 L310.2 526.3 L311.1 525.3 L312.0 524.0 L312.8 522.7 L313.5 521.4 L314.2 519.9 L314.9 518.4 L315.5 517.0 L316.0 515.5 L316.4 514.0 L316.9 512.5 L317.3 511.0 L317.6 509.5 L318.0 508.0 L318.3 506.5 L318.6 505.0 L318.9 503.5 L319.1 502.0 L319.4 500.5 L319.7 499.1 L319.9 497.6 L320.2 496.1 L320.4 494.6 L320.7 493.1 L320.9 491.6 L321.2 490.1 L321.4 488.6 L321.6 487.1 L321.8 485.7 L322.0 484.2 L322.2 482.7 L322.4 481.2 L322.6 479.7 L322.8 478.2 L323.0 476.8 L323.2 475.3 L323.4 473.8 L323.6 472.3 L323.8 470.8 L324.0 469.3 L324.2 467.8 L324.3 466.4 L324.5 464.9 L324.7 463.4 L324.9 461.9 L325.1 460.4 L325.2 458.9 L325.4 457.5 L325.6 456.0 L325.8 454.5 L326.0 453.0 L326.2 451.5 L326.3 450.0 L326.5 448.6 L326.7 447.1 L326.9 445.6 L327.1 444.1 L327.2 442.6 L327.4 441.1 L327.6 439.6 L327.8 438.2 L328.0 436.7 L328.1 435.2 L328.3 433.7 L328.5 432.2 L328.7 430.7 L328.9 429.3 L329.0 427.8 L329.2 426.3 L329.4 424.8 L329.6 423.3 L329.8 421.8 L329.9 420.3 L330.1 418.9 L330.3 417.4 L330.5 415.9 L330.6 414.4 L330.8 412.9 L331.0 411.4 L331.2 409.9 L331.4 408.5 L331.5 407.0 L331.7 405.5 L331.9 404.0 L332.1 402.5 L332.3 401.0 L332.4 399.5 L332.6 398.1 L332.8 396.6 L333.0 395.1 L333.1 393.6 L333.3 392.1 L333.5 390.6 L333.7 389.1 L333.9 387.7 L334.0 386.2 L334.2 384.7 L334.4 383.2 L334.6 381.7 L334.8 380.2 L334.9 378.7 L335.1 377.2 L335.3 375.8 L335.5 374.3 L335.6 372.8 L335.8 371.3 L336.0 369.8 L336.2 368.3 L336.4 366.8 L336.5 365.4 L336.7 363.9 L336.9 362.4 L337.1 360.9 L337.3 359.4 L337.4 357.9 L337.6 356.4 L337.8 354.9 L338.0 353.5 L338.1 352.0 L338.3 350.5 L338.5 349.0 L338.7 347.5 L338.9 346.0 L339.0 344.5 L339.2 343.0 L339.4 341.6 L339.6 340.1 L339.8 338.6 L339.9 337.1 L340.1 335.6 L340.3 334.1 L340.5 332.6 L340.7 331.2 L340.8 329.7 L341.0 328.2 L341.2 326.7 L341.4 325.2 L341.6 323.7 L341.7 322.2 L341.9 320.7 L342.1 319.3 L342.3 317.8 L342.5 316.3 L342.7 314.8 L342.8 313.3 L343.0 311.8 L343.2 310.3 L343.4 308.8 L343.6 307.4 L343.7 305.9 L343.9 304.4 L344.1 302.9 L344.3 301.4 L344.5 299.9 L344.7 298.4 L344.8 296.9 L345.0 295.4 L345.2 294.0 L345.4 292.5 L345.6 291.0 L345.8 289.5 L346.0 288.0 L346.1 286.5 L346.3 285.0 L346.5 283.5 L346.7 282.1 L346.9 280.6 L347.1 279.1 L347.2 277.6 L347.4 276.1 L347.6 274.6 L347.8 273.1 L348.0 271.6 L348.2 270.2 L348.4 268.7 L348.6 267.2 L348.7 265.7 L348.9 264.2 L349.1 262.7 L349.3 261.2 L349.5 259.7 L349.7 258.3 L349.9 256.8 L350.1 255.3 L350.3 253.8 L350.4 252.3 L350.6 250.8 L350.8 249.3 L351.0 247.8 L351.2 246.4 L351.4 244.9 L351.6 243.4 L351.8 241.9 L352.0 240.4 L352.2 238.9 L352.4 237.4 L352.6 235.9 L352.7 234.5 L352.9 233.0 L353.1 231.5 L353.3 230.0 L353.5 228.5 L353.7 227.0 L353.9 225.5 L354.1 224.0 L354.3 222.5 L354.5 221.1 L354.7 219.6 L354.9 218.1 L355.1 216.6 L355.3 215.1 L355.5 213.6 L355.7 212.1 L355.9 210.7 L356.1 209.2 L356.3 207.7 L356.5 206.2 L356.7 204.7 L356.9 203.2 L357.1 201.7 L357.3 200.3 L357.5 198.8 L357.8 197.3 L358.0 195.8 L358.2 194.3 L358.4 192.8 L358.6 191.3 L358.8 189.9 L359.0 188.4 L359.3 186.9 L359.5 185.4 L359.7 183.9 L359.9 182.5 L360.1 181.0 L360.4 179.5 L360.6 178.0 L360.8 176.5 L361.0 175.0 L361.3 173.6 L361.5 172.1 L361.7 170.6 L362.0 169.1 L362.2 167.7 L362.5 166.2 L362.7 164.7 L362.9 163.2 L363.2 161.7 L363.4 160.3 L363.7 158.8 L363.9 157.3 L364.2 155.8 L364.4 154.4 L364.7 152.9 L364.9 151.4 L365.2 150.0 L365.5 148.5 L365.7 147.0 L366.0 145.5 L366.3 144.1 L366.5 142.6 L366.8 141.1 L367.1 139.7 L367.4 138.2 L367.6 136.7 L367.9 135.3 L368.2 133.8 L368.5 132.3 L368.8 130.9 L369.1 129.4 L369.4 127.9 L369.7 126.5 L370.0 125.0 L370.3 123.6 L370.6 122.1 L370.9 120.6 L371.2 119.2 L371.5 117.7 L371.8 116.3 L372.1 114.8 L372.5 113.3 L372.8 111.9 L373.1 110.4 L373.5 109.0 L373.8 107.5 L374.1 106.1 L374.5 104.6 L374.8 103.2 L375.2 101.7 L375.6 100.3 L376.0 98.8 L376.3 97.4 L376.7 95.9 L377.1 94.5 L377.5 93.0 L377.9 91.6 L378.3 90.1 L378.8 88.7 L379.2 87.2 L379.6 85.8 L380.1 84.4 L380.6 82.9 L381.0 81.5 L381.5 80.0 L382.0 78.6 L382.5 77.2 L383.0 75.7 L383.5 74.3 L384.0 72.8 L384.6 71.4 L385.1 70.0 L385.7 68.5 L386.2 67.1 L386.8 65.7 L387.4 64.2 L388.0 62.8 L388.7 61.4 L389.3 60.1 L390.0 58.7 L390.7 57.4 L391.4 56.0 L392.2 54.8 L393.0 53.5 L393.8 52.3 L394.7 51.1 L395.5 49.9 L396.5 48.8 L397.4 47.7 L398.4 46.7 L399.4 45.7 L400.5 44.8 L401.6 43.9 L402.8 43.1 L404.0 42.3 L405.3 41.6 L406.6 40.9 L408.0 40.3 L409.4 39.8 L410.8 39.4 L412.3 39.0 L413.8 38.7 L415.4 38.4 L416.9 38.2 L418.5 38.1 L420.1 38.1 L421.6 38.1 L423.2 38.2 L424.7 38.4 L426.2 38.7 L427.7 39.0 L429.1 39.4 L430.5 39.8 L431.9 40.4 L433.2 41.0 L434.4 41.6 L435.6 42.4 L436.8 43.2 L437.9 44.1 L439.0 45.0 L440.1 46.0 L441.1 47.0 L442.1 48.1 L443.1 49.2 L444.1 50.4 L445.1 51.6 L446.1 52.8 L447.0 54.1 L448.0 55.4 L449.0 56.7 L450.0 58.0 L451.0 59.4 L452.0 60.7 L453.0 62.1 L454.1 63.4 L455.1 64.6 L456.2 65.8 L457.3 66.9 L458.4 67.9 L459.5 68.8 L460.6 69.5 L461.7 70.1 L462.9 70.5 L464.0 70.7 L465.2 70.7 L466.3 70.5 L467.5 70.1 L468.6 69.6 L469.7 68.8 L470.8 68.0 L471.7 67.0 L472.6 65.9 L473.4 64.7 L474.2 63.5 L474.9 62.2 L475.6 60.8 L476.2 59.3 L476.8 57.8 L477.4 56.3 L477.9 54.7 L478.5 53.2 L479.0 51.6 L479.5 50.0 L480.0 48.5 L480.5 46.9 L481.0 45.4 L481.5 44.0 L482.1 42.5 L482.7 41.2 L483.3 39.8 L483.9 38.5 L484.6 37.2 L485.2 35.9 L486.0 34.6 L486.7 33.2 L487.5 31.9 L488.4 30.6 L489.3 29.4 L490.3 28.2 L491.3 27.1 L492.3 26.1 L493.5 25.2 L494.7 24.4 L496.0 23.8 L497.3 23.4 L498.7 23.0 L500.2 22.8 L501.7 22.6 L503.1 22.5 L504.6 22.4 L506.1 22.3 L507.6 22.2 L509.1 22.1 L510.6 22.0 L512.1 21.9 L513.5 21.9 L515.0 21.8 L516.5 21.8 L518.0 21.7 L519.5 21.7 L521.0 21.7 L522.5 21.7 L523.9 21.7 L525.4 21.7 L526.9 21.7 L528.4 21.7 L529.9 21.7 L531.4 21.7 L532.9 21.8 L534.4 21.8 L535.9 21.9 L537.3 21.9 L538.8 22.0 L540.3 22.1 L541.8 22.1 L543.3 22.2 L544.8 22.3 L546.3 22.4 L547.8 22.5 L549.3 22.6 L550.8 22.7 L552.2 22.8 L553.7 22.9 L555.2 23.0 L556.7 23.1 L558.2 23.3 L559.7 23.4 L561.2 23.5 L562.7 23.7 L564.2 23.8 L565.7 23.9 L567.2 24.1 L568.7 24.2 L570.2 24.4 L571.6 24.5 L573.1 24.7 L574.6 24.8 L576.1 25.0 L577.6 25.1 L579.1 25.3 L580.6 25.4 L582.1 25.6 L583.6 25.8 L585.1 25.9 L586.6 26.1 L588.1 26.2 L589.6 26.4 L591.1 26.5 L592.6 26.7 L594.0 26.9 L595.5 27.0 L597.0 27.2 L598.5 27.3 L600.0 27.5 L601.5 27.6 L603.0 27.8 L604.5 27.9 L606.0 28.0 L607.5 28.2 L609.0 28.3 L610.5 28.5 L612.0 28.6 L613.5 28.7 L615.0 28.9 L616.5 29.0 L618.0 29.1 L619.5 29.2 L621.0 29.4 L622.5 29.5 L624.0 29.6 L625.4 29.7 L626.9 29.8 L628.4 29.9 L629.9 30.0 L631.4 30.2 L632.9 30.3 L634.4 30.4 L635.9 30.5 L637.4 30.6 L638.9 30.7 L640.4 30.8 L641.9 30.9 L643.4 31.0 L644.9 31.0 L646.4 31.1 L647.9 31.2 L649.4 31.3 L650.9 31.4 L652.4 31.5 L653.9 31.6 L655.4 31.6 L656.9 31.7 L658.4 31.8 L659.9 31.9 L661.4 32.0 L662.9 32.0 L664.4 32.1 L665.8 32.2 L667.3 32.2 L668.8 32.3 L670.3 32.4 L671.8 32.4 L673.3 32.5 L674.8 32.5 L676.3 32.6 L677.8 32.7 L679.3 32.7 L680.8 32.8 L682.3 32.8 L683.8 32.9 L685.3 32.9 L686.8 33.0 L688.3 33.0 L689.8 33.1 L691.3 33.1 L692.8 33.2 L694.3 33.2 L695.8 33.2 L697.3 33.3 L698.8 33.3 L700.3 33.3 L701.8 33.4 L703.3 33.4 L704.8 33.4 L706.3 33.5 L707.8 33.5 L709.3 33.5 L710.8 33.6 L712.3 33.6 L713.8 33.6 L715.3 33.6 L716.8 33.7 L718.3 33.7 L719.8 33.7 L721.3 33.7 L722.8 33.7 L724.3 33.8 L725.8 33.8 L727.3 33.8 L728.8 33.8 L730.3 33.8 L731.8 33.8 L733.3 33.8 L734.8 33.8 L736.2 33.9 L737.7 33.9 L739.2 33.9 L740.7 33.9 L742.2 33.9 L743.7 33.9 L745.2 33.9 L746.7 33.9 L748.2 33.9 L749.7 33.9 L751.2 33.9 L752.7 33.9 L754.2 33.9 L755.7 33.9 L757.2 33.9 L758.7 33.9 L760.2 33.9 L761.7 33.8 L763.2 33.8 L764.7 33.8 L766.2 33.8 L767.7 33.8 L769.2 33.8 L770.7 33.8 L772.2 33.8 L773.7 33.8 L775.2 33.7 L776.7 33.7 L778.2 33.7 L779.7 33.7 L781.2 33.7 L782.7 33.7 L784.2 33.6 L785.7 33.6 L787.2 33.6 L788.7 33.6 L790.2 33.6 L791.7 33.5 L793.2 33.5 L794.7 33.5 L796.2 33.5 L797.7 33.5 L799.2 33.4 L800.7 33.4 L802.2 33.4 L803.7 33.4 L805.2 33.3 L806.7 33.3 L808.2 33.3 L809.7 33.2 L811.2 33.2 L812.7 33.2 L814.2 33.2 L815.7 33.1 L817.2 33.1 L818.7 33.1 L820.2 33.0 L821.7 33.0 L823.2 33.0 L824.7 33.0 L826.2 32.9 L827.7 32.9 L829.2 32.9 L830.7 32.8 L832.2 32.8 L833.7 32.8 L835.2 32.7 L836.7 32.7 L838.2 32.7 L839.7 32.6 L841.2 32.6 L842.7 32.6 L844.2 32.5 L845.7 32.5 L847.2 32.5 L848.7 32.4 L850.2 32.4 L851.7 32.4 L853.2 32.3 L854.7 32.3 L856.2 32.2 L857.7 32.2 L859.2 32.2 L860.7 32.1 L862.2 32.1 L863.7 32.1 L865.2 32.0 L866.7 32.0 L868.2 32.0 L869.7 31.9 L871.2 31.9 L872.7 31.9 L874.2 31.8 L875.7 31.8 L877.2 31.8 L878.7 31.7 L880.2 31.7 L881.7 31.7 L883.2 31.6 L884.7 31.6 L886.2 31.6 L887.7 31.5 L889.2 31.5 L890.7 31.5 L892.2 31.4 L893.6 31.4 L895.1 31.4 L896.6 31.3 L898.1 31.3 L899.6 31.3 L901.1 31.2 L902.6 31.2 L904.1 31.2 L905.6 31.1 L907.1 31.1 L908.6 31.1 L910.1 31.0 L911.6 31.0 L913.1 31.0 L914.6 31.0 L916.1 30.9 L917.6 30.9 L919.1 30.9 L920.6 30.9 L922.1 30.8 L923.6 30.8 L925.1 30.8 L926.6 30.7 L928.1 30.7 L929.6 30.7 L931.1 30.7 L932.6 30.7 L934.1 30.6 L935.6 30.6 L937.1 30.6 L938.6 30.6 L940.1 30.6 L941.6 30.5 L943.1 30.5 L944.6 30.5 L946.1 30.5 L947.6 30.5 L949.1 30.4 L950.6 30.4 L952.1 30.4 L953.6 30.4 L955.1 30.4 L956.6 30.4 L958.1 30.4 L959.6 30.4 L961.1 30.3 L962.6 30.3 L964.1 30.3 L965.6 30.3 L967.1 30.3 L968.6 30.3 L970.1 30.3 L971.6 30.3 L973.1 30.3 L974.5 30.3 L976.0 30.3 L977.5 30.3 L979.0 30.3 L980.5 30.3 L982.0 30.3 L983.5 30.3 L985.0 30.3 L986.5 30.3 L988.0 30.3 L989.5 30.3 L991.0 30.3 L992.5 30.3 L994.0 30.4 L995.5 30.4 L997.0 30.4"/>
<path class="c" stroke="#00bfbf" d="M108.2 623.6 L108.8 624.6 L109.7 625.7 L110.7 626.8 L111.8 628.0 L113.1 629.1 L114.4 630.2 L115.8 631.2 L117.2 632.0 L118.6 632.7 L120.0 633.2 L121.4 633.4 L122.7 633.5 L124.1 633.4 L125.4 633.2 L126.7 632.8 L128.0 632.3 L129.3 631.7 L130.5 631.0 L131.8 630.2 L133.0 629.4 L134.2 628.5 L135.4 627.5 L136.6 626.5 L137.7 625.5 L138.9 624.5 L140.0 623.5 L141.1 622.4 L142.2 621.4 L143.3 620.3 L144.4 619.2 L145.5 618.2 L146.6 617.1 L147.6 616.0 L148.7 614.9 L149.7 613.8 L150.7 612.7 L151.7 611.6 L152.7 610.5 L153.7 609.3 L154.7 608.2 L155.7 607.1 L156.7 605.9 L157.6 604.8 L158.6 603.6 L159.5 602.5 L160.5 601.3 L161.4 600.1 L162.3 599.0 L163.3 597.8 L164.2 596.6 L165.1 595.4 L166.0 594.2 L167.0 593.1 L167.9 591.9 L168.8 590.7 L169.7 589.5 L170.6 588.3 L171.5 587.1 L172.4 585.9 L173.3 584.7 L174.2 583.5 L175.1 582.3 L176.0 581.2 L176.9 580.0 L177.8 578.8 L178.8 577.6 L179.7 576.4 L180.6 575.2 L181.5 574.0 L182.4 572.9 L183.4 571.7 L184.3 570.5 L185.2 569.4 L186.2 568.2 L187.1 567.0 L188.1 565.9 L189.1 564.7 L190.0 563.6 L191.0 562.4 L192.0 561.3 L193.0 560.2 L194.0 559.1 L195.0 558.0 L196.1 556.9 L197.1 555.8 L198.2 554.8 L199.3 553.8 L200.4 552.8 L201.5 551.9 L202.6 551.0 L203.8 550.1 L205.0 549.3 L206.2 548.5 L207.4 547.8 L208.7 547.1 L210.0 546.4 L211.3 545.8 L212.7 545.3 L214.1 544.8 L215.5 544.4 L217.0 544.1 L218.4 543.8 L220.0 543.6 L221.5 543.4 L223.1 543.3 L224.7 543.2 L226.3 543.1 L227.9 543.0 L229.5 543.0 L231.1 542.9 L232.7 542.9 L234.3 542.8 L235.8 542.7 L237.3 542.5 L238.8 542.3 L240.3 542.1 L241.7 541.8 L243.1 541.4 L244.4 540.9 L245.7 540.4 L246.9 539.8 L248.0 539.1 L249.2 538.3 L250.2 537.5 L251.3 536.6 L252.3 535.6 L253.2 534.6 L254.1 533.5 L255.0 532.4 L255.8 531.2 L256.6 530.0 L257.4 528.7 L258.2 527.4 L258.9 526.1 L259.6 524.7 L260.2 523.3 L260.9 521.9 L261.5 520.5 L262.1 519.0 L262.7 517.5 L263.3 516.0 L263.9 514.5 L264.4 513.0 L265.0 511.5 L265.5 509.9 L266.1 508.4 L266.6 506.9 L267.1 505.4 L267.6 503.9 L268.2 502.4 L268.7 500.9 L269.2 499.5 L269.8 498.1 L270.3 496.7 L270.9 495.3 L271.5 493.9 L272.0 492.6 L272.6 491.3 L273.2 490.0 L273.7 488.7 L274.3 487.4 L274.9 486.1 L275.5 484.8 L276.0 483.5 L276.6 482.2 L277.2 480.9 L277.7 479.6 L278.3 478.3 L278.8 477.0 L279.3 475.7 L279.9 474.3 L280.4 473.0 L280.9 471.6 L281.4 470.2 L281.9 468.8 L282.3 467.4 L282.8 465.9 L283.2 464.5 L283.6 463.0 L284.1 461.4 L284.5 459.9 L284.9 458.4 L285.3 456.8 L285.8 455.3 L286.2 453.8 L286.7 452.2 L287.2 450.7 L287.7 449.2 L288.2 447.7 L288.8 446.3 L289.4 444.9 L290.0 443.5 L290.7 442.1 L291.5 440.8 L292.2 439.6 L293.1 438.4 L294.0 437.2 L294.9 436.1 L295.9 435.1 L297.0 434.1 L298.1 433.3 L299.4 432.5 L300.6 431.7 L302.0 431.1 L303.3 430.6 L304.7 430.3 L306.0 430.1 L307.4 430.0 L308.7 430.2 L309.9 430.5 L311.1 431.0 L312.2 431.7 L313.3 432.5 L314.3 433.5 L315.3 434.6 L316.2 435.8 L317.2 437.1 L318.0 438.5 L318.9 439.9 L319.7 441.4 L320.6 442.9 L321.4 444.5 L322.2 446.0 L323.0 447.5 L323.8 449.0 L324.6 450.4 L325.4 451.8 L326.2 453.1 L327.1 454.2 L328.0 455.3 L329.0 456.2 L330.1 457.0 L331.3 457.6 L332.5 458.1 L333.7 458.2 L334.9 458.1 L336.1 457.7 L337.3 457.1 L338.4 456.3 L339.4 455.3 L340.4 454.1 L341.3 452.8 L342.1 451.5 L342.9 450.0 L343.5 448.6 L344.1 447.1 L344.5 445.7 L344.9 444.2 L345.3 442.7 L345.6 441.2 L345.9 439.8 L346.2 438.3 L346.4 436.8 L346.7 435.3 L346.9 433.8 L347.2 432.3 L347.5 430.8 L347.7 429.4 L348.0 427.9 L348.2 426.4 L348.5 424.9 L348.7 423.4 L348.9 421.9 L349.2 420.5 L349.4 419.0 L349.6 417.5 L349.9 416.0 L350.1 414.5 L350.3 413.0 L350.5 411.6 L350.8 410.1 L351.0 408.6 L351.2 407.1 L351.4 405.6 L351.6 404.1 L351.8 402.7 L352.0 401.2 L352.2 399.7 L352.5 398.2 L352.7 396.7 L352.9 395.2 L353.1 393.8 L353.3 392.3 L353.5 390.8 L353.7 389.3 L353.9 387.8 L354.1 386.3 L354.2 384.9 L354.4 383.4 L354.6 381.9 L354.8 380.4 L355.0 378.9 L355.2 377.4 L355.4 376.0 L355.6 374.5 L355.8 373.0 L356.0 371.5 L356.1 370.0 L356.3 368.5 L356.5 367.0 L356.7 365.6 L356.9 364.1 L357.1 362.6 L357.3 361.1 L357.4 359.6 L357.6 358.1 L357.8 356.6 L358.0 355.2 L358.2 353.7 L358.3 352.2 L358.5 350.7 L358.7 349.2 L358.9 347.7 L359.1 346.2 L359.3 344.8 L359.4 343.3 L359.6 341.8 L359.8 340.3 L360.0 338.8 L360.1 337.3 L360.3 335.8 L360.5 334.3 L360.7 332.9 L360.9 331.4 L361.0 329.9 L361.2 328.4 L361.4 326.9 L361.6 325.4 L361.7 323.9 L361.9 322.4 L362.1 320.9 L362.3 319.5 L362.4 318.0 L362.6 316.5 L362.8 315.0 L363.0 313.5 L363.2 312.0 L363.3 310.5 L363.5 309.0 L363.7 307.5 L363.9 306.1 L364.0 304.6 L364.2 303.1 L364.4 301.6 L364.6 300.1 L364.7 298.6 L364.9 297.1 L365.1 295.6 L365.3 294.1 L365.4 292.6 L365.6 291.2 L365.8 289.7 L365.9 288.2 L366.1 286.7 L366.3 285.2 L366.5 283.7 L366.6 282.2 L366.8 280.7 L367.0 279.2 L367.2 277.7 L367.3 276.3 L367.5 274.8 L367.7 273.3 L367.9 271.8 L368.0 270.3 L368.2 268.8 L368.4 267.3 L368.6 265.8 L368.7 264.3 L368.9 262.8 L369.1 261.4 L369.3 259.9 L369.5 258.4 L369.6 256.9 L369.8 255.4 L370.0 253.9 L370.2 252.4 L370.3 250.9 L370.5 249.4 L370.7 247.9 L370.9 246.5 L371.0 245.0 L371.2 243.5 L371.4 242.0 L371.6 240.5 L371.8 239.0 L371.9 237.5 L372.1 236.0 L372.3 234.5 L372.5 233.1 L372.7 231.6 L372.8 230.1 L373.0 228.6 L373.2 227.1 L373.4 225.6 L373.6 224.1 L373.8 222.6 L373.9 221.1 L374.1 219.7 L374.3 218.2 L374.5 216.7 L374.7 215.2 L374.9 213.7 L375.0 212.2 L375.2 210.7 L375.4 209.2 L375.6 207.8 L375.8 206.3 L376.0 204.8 L376.2 203.3 L376.4 201.8 L376.5 200.3 L376.7 198.8 L376.9 197.3 L377.1 195.9 L377.3 194.4 L377.5 192.9 L377.7 191.4 L377.9 189.9 L378.1 188.4 L378.3 186.9 L378.5 185.5 L378.7 184.0 L378.9 182.5 L379.0 181.0 L379.2 179.5 L379.4 178.0 L379.6 176.5 L379.8 175.1 L380.0 173.6 L380.2 172.1 L380.4 170.6 L380.6 169.1 L380.8 167.6 L381.0 166.2 L381.2 164.7 L381.5 163.2 L381.7 161.7 L381.9 160.2 L382.1 158.7 L382.3 157.3 L382.5 155.8 L382.7 154.3 L382.9 152.8 L383.1 151.3 L383.3 149.9 L383.5 148.4 L383.7 146.9 L384.0 145.4 L384.2 143.9 L384.4 142.5 L384.6 141.0 L384.8 139.5 L385.0 138.0 L385.3 136.5 L385.5 135.1 L385.7 133.6 L385.9 132.1 L386.2 130.6 L386.4 129.2 L386.6 127.7 L386.9 126.2 L387.1 124.7 L387.3 123.2 L387.6 121.8 L387.8 120.3 L388.1 118.8 L388.3 117.4 L388.6 115.9 L388.9 114.4 L389.1 112.9 L389.4 111.5 L389.7 110.0 L389.9 108.5 L390.2 107.1 L390.5 105.6 L390.8 104.1 L391.1 102.7 L391.4 101.2 L391.7 99.7 L392.0 98.3 L392.3 96.8 L392.7 95.3 L393.0 93.9 L393.3 92.4 L393.7 90.9 L394.0 89.5 L394.4 88.0 L394.7 86.6 L395.1 85.1 L395.5 83.6 L395.9 82.2 L396.2 80.7 L396.6 79.3 L397.0 77.8 L397.5 76.4 L397.9 74.9 L398.3 73.5 L398.7 72.0 L399.2 70.6 L399.6 69.1 L400.1 67.7 L400.5 66.2 L401.0 64.8 L401.5 63.3 L402.0 61.9 L402.5 60.5 L403.0 59.0 L403.5 57.6 L404.0 56.1 L404.6 54.7 L405.1 53.3 L405.7 51.8 L406.2 50.4 L406.8 49.0 L407.4 47.6 L408.1 46.2 L408.7 44.8 L409.4 43.5 L410.1 42.2 L410.8 40.9 L411.5 39.6 L412.3 38.4 L413.1 37.1 L414.0 36.0 L414.9 34.8 L415.8 33.7 L416.7 32.7 L417.7 31.7 L418.8 30.7 L419.9 29.8 L421.0 29.0 L422.2 28.2 L423.5 27.5 L424.8 26.8 L426.1 26.2 L427.5 25.7 L428.9 25.2 L430.4 24.8 L431.9 24.4 L433.5 24.1 L435.0 23.8 L436.6 23.6 L438.1 23.4 L439.7 23.3 L441.3 23.2 L442.8 23.2 L444.4 23.1 L445.9 23.2 L447.4 23.2 L448.9 23.3 L450.4 23.4 L451.8 23.5 L453.3 23.6 L454.7 23.7 L456.2 23.8 L457.6 23.9 L459.1 24.0 L460.5 24.1 L462.0 24.2 L463.4 24.3 L464.8 24.3 L466.3 24.3 L467.7 24.3 L469.2 24.3 L470.6 24.2 L472.1 24.1 L473.5 23.9 L475.0 23.8 L476.5 23.6 L477.9 23.4 L479.4 23.2 L480.9 22.9 L482.4 22.7 L483.8 22.4 L485.3 22.2 L486.8 22.0 L488.3 21.7 L489.8 21.5 L491.3 21.3 L492.8 21.1 L494.2 20.9 L495.7 20.7 L497.2 20.5 L498.7 20.3 L500.2 20.2 L501.7 20.1 L503.2 20.0 L504.7 19.8 L506.1 19.8 L507.6 19.7 L509.1 19.6 L510.6 19.5 L512.1 19.5 L513.6 19.5 L515.1 19.4 L516.5 19.4 L518.0 19.4 L519.5 19.4 L521.0 19.4 L522.5 19.5 L524.0 19.5 L525.5 19.5 L527.0 19.6 L528.5 19.6 L529.9 19.7 L531.4 19.8 L532.9 19.9 L534.4 20.0 L535.9 20.1 L537.4 20.2 L538.9 20.3 L540.4 20.4 L541.9 20.5 L543.3 20.7 L544.8 20.8 L546.3 20.9 L547.8 21.1 L549.3 21.2 L550.8 21.4 L552.3 21.6 L553.8 21.7 L555.3 21.9 L556.7 22.1 L558.2 22.3 L559.7 22.4 L561.2 22.6 L562.7 22.8 L564.2 23.0 L565.7 23.2 L567.2 23.4 L568.7 23.6 L570.2 23.8 L571.7 24.0 L573.1 24.2 L574.6 24.4 L576.1 24.6 L577.6 24.8 L579.1 25.0 L580.6 25.2 L582.1 25.4 L583.6 25.6 L585.1 25.8 L586.6 26.0 L588.1 26.2 L589.6 26.4 L591.0 26.6 L592.5 26.8 L594.0 27.0 L595.5 27.2 L597.0 27.4 L598.5 27.6 L600.0 27.8 L601.5 28.0 L603.0 28.1 L604.5 28.3 L606.0 28.5 L607.5 28.6 L609.0 28.8 L610.5 29.0 L612.0 29.1 L613.4 29.3 L614.9 29.4 L616.4 29.6 L617.9 29.7 L619.4 29.8 L620.9 30.0 L622.4 30.1 L623.9 30.2 L625.4 30.4 L626.9 30.5 L628.4 30.6 L629.9 30.7 L631.4 30.8 L632.9 30.9 L634.4 31.0 L635.9 31.1 L637.4 31.2 L638.9 31.3 L640.4 31.4 L641.9 31.5 L643.4 31.6 L644.8 31.7 L646.3 31.8 L647.8 31.9 L649.3 31.9 L650.8 32.0 L652.3 32.1 L653.8 32.2 L655.3 32.2 L656.8 32.3 L658.3 32.4 L659.8 32.4 L661.3 32.5 L662.8 32.5 L664.3 32.6 L665.8 32.6 L667.3 32.7 L668.8 32.7 L670.3 32.8 L671.8 32.8 L673.3 32.8 L674.8 32.9 L676.3 32.9 L677.8 33.0 L679.3 33.0 L680.8 33.0 L682.3 33.0 L683.8 33.1 L685.3 33.1 L686.8 33.1 L688.3 33.1 L689.8 33.1 L691.3 33.2 L692.8 33.2 L694.3 33.2 L695.8 33.2 L697.3 33.2 L698.8 33.2 L700.3 33.2 L701.7 33.2 L703.2 33.2 L704.7 33.2 L706.2 33.2 L707.7 33.2 L709.2 33.2 L710.7 33.2 L712.2 33.2 L713.7 33.2 L715.2 33.2 L716.7 33.2 L718.2 33.2 L719.7 33.2 L721.2 33.2 L722.7 33.2 L724.2 33.2 L725.7 33.2 L727.2 33.1 L728.7 33.1 L730.2 33.1 L731.7 33.1 L733.2 33.1 L734.7 33.1 L736.2 33.0 L737.7 33.0 L739.2 33.0 L740.7 33.0 L742.2 33.0 L743.7 32.9 L745.2 32.9 L746.7 32.9 L748.2 32.9 L749.7 32.8 L751.2 32.8 L752.7 32.8 L754.2 32.8 L755.7 32.8 L757.2 32.7 L758.7 32.7 L760.2 32.7 L761.7 32.7 L763.2 32.6 L764.7 32.6 L766.2 32.6 L767.7 32.6 L769.2 32.5 L770.7 32.5 L772.2 32.5 L773.7 32.5 L775.2 32.5 L776.7 32.4 L778.2 32.4 L779.7 32.4 L781.2 32.4 L782.7 32.3 L784.2 32.3 L785.7 32.3 L787.2 32.3 L788.7 32.3 L790.2 32.2 L791.7 32.2 L793.2 32.2 L794.7 32.2 L796.2 32.2 L797.7 32.2 L799.2 32.2 L800.7 32.1 L802.2 32.1 L803.7 32.1 L805.2 32.1 L806.7 32.1 L808.2 32.1 L809.7 32.1 L811.2 32.1 L812.7 32.1 L814.2 32.1 L815.7 32.1 L817.2 32.1 L818.7 32.1 L820.2 32.1 L821.7 32.1 L823.2 32.0 L824.7 32.0 L826.2 32.0 L827.7 32.0 L829.2 32.0 L830.7 32.0 L832.2 32.0 L833.7 32.1 L835.2 32.1 L836.7 32.1 L838.2 32.1 L839.7 32.1 L841.2 32.1 L842.7 32.1 L844.2 32.1 L845.7 32.1 L847.2 32.1 L848.7 32.1 L850.2 32.1 L851.7 32.1 L853.2 32.1 L854.7 32.1 L856.2 32.1 L857.7 32.1 L859.2 32.1 L860.7 32.1 L862.2 32.1 L863.7 32.1 L865.2 32.1 L866.7 32.1 L868.2 32.1 L869.7 32.1 L871.2 32.1 L872.7 32.1 L874.1 32.2 L875.6 32.2 L877.1 32.2 L878.6 32.2 L880.1 32.2 L881.6 32.2 L883.1 32.2 L884.6 32.2 L886.1 32.2 L887.6 32.2 L889.1 32.2 L890.6 32.2 L892.1 32.2 L893.6 32.2 L895.1 32.2 L896.6 32.2 L898.1 32.2 L899.6 32.1 L901.1 32.1 L902.6 32.1 L904.1 32.1 L905.6 32.1 L907.1 32.1 L908.6 32.1 L910.1 32.1 L911.6 32.1 L913.1 32.1 L914.6 32.1 L916.1 32.1 L917.6 32.0 L919.1 32.0 L920.6 32.0 L922.1 32.0 L923.6 32.0 L925.1 32.0 L926.6 31.9 L928.1 31.9 L929.6 31.9 L931.1 31.9 L932.6 31.8 L934.1 31.8 L935.6 31.8 L937.1 31.8 L938.6 31.7 L940.1 31.7 L941.6 31.7 L943.1 31.6 L944.6 31.6 L946.1 31.6 L947.6 31.5 L949.1 31.5 L950.6 31.5 L952.1 31.4 L953.6 31.4 L955.1 31.3 L956.6 31.3 L958.1 31.2 L959.6 31.2 L961.1 31.1 L962.6 31.1 L964.0 31.0 L965.5 31.0 L967.0 30.9 L968.5 30.9 L970.0 30.8 L971.5 30.7 L973.0 30.7 L974.5 30.6 L976.0 30.5 L977.5 30.5 L979.0 30.4 L980.5 30.3 L982.0 30.3 L983.5 30.2 L985.0 30.1 L986.5 30.0 L988.0 29.9 L989.5 29.9 L991.0 29.8 L992.5 29.7 L994.0 29.6 L995.5 29.5 L997.0 29.4"/>
<path class="c" stroke="#bf00bf" d="M108.1 619.4 L108.9 620.1 L109.7 621.1 L110.6 622.3 L111.5 623.6 L112.5 625.1 L113.5 626.6 L114.6 628.1 L115.7 629.4 L116.8 630.7 L118.0 631.8 L119.2 632.7 L120.5 633.5 L121.7 634.1 L123.1 634.6 L124.4 634.9 L125.8 635.2 L127.1 635.3 L128.5 635.3 L129.9 635.2 L131.3 635.0 L132.7 634.7 L134.1 634.3 L135.4 633.9 L136.8 633.4 L138.1 632.8 L139.5 632.2 L140.8 631.5 L142.0 630.8 L143.3 630.0 L144.5 629.3 L145.7 628.4 L146.9 627.6 L148.0 626.7 L149.2 625.8 L150.3 624.9 L151.4 623.9 L152.4 622.9 L153.5 621.9 L154.5 620.8 L155.5 619.7 L156.5 618.6 L157.5 617.5 L158.5 616.4 L159.5 615.3 L160.4 614.1 L161.4 612.9 L162.3 611.7 L163.2 610.5 L164.2 609.3 L165.1 608.1 L166.0 606.8 L166.9 605.6 L167.8 604.3 L168.7 603.1 L169.6 601.8 L170.5 600.6 L171.4 599.3 L172.3 598.1 L173.2 596.8 L174.1 595.6 L175.0 594.4 L175.9 593.1 L176.8 591.9 L177.8 590.7 L178.7 589.5 L179.7 588.3 L180.6 587.1 L181.6 586.0 L182.6 584.8 L183.6 583.7 L184.6 582.6 L185.6 581.5 L186.7 580.4 L187.7 579.4 L188.8 578.4 L189.9 577.4 L191.0 576.4 L192.1 575.4 L193.2 574.4 L194.4 573.5 L195.5 572.6 L196.7 571.6 L197.8 570.7 L199.0 569.8 L200.2 568.9 L201.4 568.1 L202.6 567.2 L203.8 566.3 L205.0 565.5 L206.2 564.6 L207.4 563.7 L208.6 562.9 L209.8 562.0 L211.0 561.2 L212.3 560.3 L213.5 559.5 L214.7 558.6 L215.9 557.8 L217.1 556.9 L218.4 556.1 L219.6 555.2 L220.8 554.3 L222.0 553.4 L223.2 552.5 L224.4 551.6 L225.6 550.7 L226.8 549.8 L227.9 548.8 L229.1 547.9 L230.3 546.9 L231.4 545.9 L232.6 544.9 L233.7 543.9 L234.8 542.9 L235.9 541.8 L237.0 540.8 L238.1 539.7 L239.1 538.6 L240.2 537.4 L241.2 536.3 L242.3 535.1 L243.3 533.9 L244.3 532.8 L245.3 531.6 L246.3 530.4 L247.4 529.3 L248.4 528.1 L249.4 526.9 L250.4 525.8 L251.5 524.7 L252.5 523.6 L253.6 522.5 L254.6 521.5 L255.7 520.5 L256.8 519.5 L257.9 518.6 L259.1 517.7 L260.2 516.9 L261.4 516.1 L262.6 515.3 L263.9 514.7 L265.1 514.1 L266.4 513.5 L267.7 513.0 L269.1 512.6 L270.5 512.2 L271.9 512.0 L273.4 511.8 L274.9 511.7 L276.5 511.6 L278.0 511.6 L279.6 511.6 L281.2 511.6 L282.8 511.6 L284.4 511.6 L285.9 511.6 L287.4 511.5 L288.9 511.3 L290.4 511.1 L291.8 510.7 L293.2 510.3 L294.5 509.8 L295.8 509.1 L297.0 508.4 L298.2 507.6 L299.3 506.7 L300.4 505.8 L301.5 504.8 L302.5 503.7 L303.4 502.6 L304.4 501.5 L305.2 500.3 L306.1 499.0 L306.9 497.8 L307.6 496.5 L308.4 495.1 L309.1 493.8 L309.7 492.5 L310.3 491.1 L310.9 489.7 L311.5 488.3 L312.1 486.9 L312.6 485.5 L313.1 484.1 L313.6 482.7 L314.1 481.2 L314.6 479.8 L315.0 478.4 L315.5 476.9 L315.9 475.5 L316.4 474.0 L316.8 472.6 L317.3 471.1 L317.8 469.7 L318.3 468.3 L318.8 466.8 L319.3 465.4 L319.8 464.0 L320.3 462.6 L320.9 461.2 L321.4 459.8 L321.9 458.4 L322.5 457.1 L323.0 455.7 L323.6 454.3 L324.1 452.9 L324.6 451.5 L325.1 450.1 L325.6 448.7 L326.0 447.3 L326.5 445.9 L326.9 444.4 L327.3 443.0 L327.7 441.6 L328.1 440.1 L328.4 438.7 L328.8 437.2 L329.1 435.8 L329.5 434.3 L329.8 432.9 L330.1 431.4 L330.5 429.9 L330.8 428.5 L331.1 427.0 L331.5 425.5 L331.8 424.1 L332.2 422.6 L332.6 421.1 L333.0 419.6 L333.4 418.2 L333.8 416.7 L334.2 415.2 L334.7 413.8 L335.2 412.3 L335.6 410.9 L336.2 409.4 L336.7 408.0 L337.3 406.5 L337.9 405.1 L338.6 403.7 L339.3 402.4 L340.0 401.1 L340.8 399.8 L341.6 398.6 L342.5 397.5 L343.4 396.5 L344.4 395.5 L345.5 394.7 L346.6 393.9 L347.8 393.3 L349.1 392.8 L350.4 392.4 L351.8 392.1 L353.3 392.0 L354.8 392.0 L356.4 392.1 L358.0 392.2 L359.6 392.3 L361.2 392.5 L362.8 392.6 L364.3 392.6 L365.7 392.6 L367.0 392.4 L368.3 392.1 L369.4 391.5 L370.3 390.8 L371.2 389.9 L371.9 388.9 L372.5 387.7 L373.1 386.5 L373.6 385.1 L374.0 383.7 L374.4 382.2 L374.8 380.7 L375.2 379.2 L375.6 377.7 L375.9 376.2 L376.3 374.7 L376.6 373.1 L377.0 371.6 L377.3 370.1 L377.7 368.6 L378.0 367.1 L378.3 365.6 L378.7 364.1 L379.0 362.6 L379.3 361.1 L379.6 359.6 L379.9 358.1 L380.2 356.6 L380.5 355.1 L380.8 353.6 L381.1 352.1 L381.4 350.7 L381.7 349.2 L382.0 347.7 L382.2 346.2 L382.5 344.7 L382.8 343.2 L383.0 341.7 L383.3 340.2 L383.6 338.7 L383.8 337.2 L384.1 335.7 L384.3 334.2 L384.6 332.7 L384.8 331.2 L385.0 329.8 L385.3 328.3 L385.5 326.8 L385.7 325.3 L385.9 323.8 L386.2 322.3 L386.4 320.8 L386.6 319.3 L386.8 317.8 L387.0 316.4 L387.2 314.9 L387.4 313.4 L387.6 311.9 L387.8 310.4 L388.0 308.9 L388.2 307.4 L388.4 306.0 L388.6 304.5 L388.8 303.0 L389.0 301.5 L389.2 300.0 L389.4 298.5 L389.5 297.0 L389.7 295.6 L389.9 294.1 L390.1 292.6 L390.2 291.1 L390.4 289.6 L390.6 288.1 L390.7 286.7 L390.9 285.2 L391.1 283.7 L391.2 282.2 L391.4 280.7 L391.6 279.2 L391.7 277.8 L391.9 276.3 L392.1 274.8 L392.2 273.3 L392.4 271.8 L392.5 270.4 L392.7 268.9 L392.8 267.4 L393.0 265.9 L393.2 264.4 L393.3 262.9 L393.5 261.5 L393.6 260.0 L393.8 258.5 L393.9 257.0 L394.1 255.5 L394.2 254.1 L394.4 252.6 L394.5 251.1 L394.7 249.6 L394.8 248.1 L395.0 246.6 L395.2 245.2 L395.3 243.7 L395.5 242.2 L395.6 240.7 L395.8 239.2 L395.9 237.8 L396.1 236.3 L396.3 234.8 L396.4 233.3 L396.6 231.8 L396.7 230.3 L396.9 228.9 L397.1 227.4 L397.2 225.9 L397.4 224.4 L397.5 222.9 L397.7 221.4 L397.9 219.9 L398.1 218.5 L398.2 217.0 L398.4 215.5 L398.6 214.0 L398.8 212.5 L398.9 211.0 L399.1 209.5 L399.3 208.1 L399.5 206.6 L399.7 205.1 L399.9 203.6 L400.0 202.1 L400.2 200.6 L400.4 199.1 L400.6 197.6 L400.8 196.2 L401.0 194.7 L401.2 193.2 L401.4 191.7 L401.6 190.2 L401.8 188.7 L402.1 187.2 L402.3 185.7 L402.5 184.2 L402.7 182.7 L402.9 181.3 L403.1 179.8 L403.4 178.3 L403.6 176.8 L403.8 175.3 L404.0 173.8 L404.3 172.3 L404.5 170.8 L404.7 169.3 L404.9 167.8 L405.2 166.4 L405.4 164.9 L405.6 163.4 L405.9 161.9 L406.1 160.4 L406.4 158.9 L406.6 157.4 L406.8 155.9 L407.1 154.4 L407.3 153.0 L407.6 151.5 L407.8 150.0 L408.1 148.5 L408.3 147.0 L408.5 145.5 L408.8 144.0 L409.0 142.5 L409.3 141.1 L409.5 139.6 L409.8 138.1 L410.0 136.6 L410.3 135.1 L410.6 133.6 L410.8 132.2 L411.1 130.7 L411.3 129.2 L411.6 127.7 L411.8 126.2 L412.1 124.8 L412.3 123.3 L412.6 121.8 L412.8 120.3 L413.1 118.9 L413.3 117.4 L413.6 115.9 L413.9 114.5 L414.1 113.0 L414.4 111.5 L414.6 110.0 L414.9 108.6 L415.1 107.1 L415.4 105.6 L415.6 104.2 L415.9 102.7 L416.1 101.2 L416.4 99.8 L416.7 98.3 L416.9 96.9 L417.2 95.4 L417.4 93.9 L417.7 92.5 L417.9 91.0 L418.2 89.6 L418.5 88.1 L418.7 86.7 L419.0 85.2 L419.3 83.8 L419.6 82.3 L419.9 80.9 L420.2 79.4 L420.5 78.0 L420.8 76.5 L421.2 75.1 L421.5 73.6 L421.9 72.2 L422.2 70.7 L422.6 69.3 L423.0 67.8 L423.4 66.4 L423.9 64.9 L424.3 63.5 L424.8 62.0 L425.3 60.6 L425.8 59.1 L426.3 57.7 L426.8 56.2 L427.4 54.8 L428.0 53.3 L428.6 51.9 L429.2 50.5 L429.8 49.0 L430.5 47.6 L431.2 46.2 L431.9 44.8 L432.7 43.5 L433.4 42.1 L434.2 40.8 L435.1 39.5 L435.9 38.3 L436.8 37.0 L437.7 35.8 L438.6 34.7 L439.6 33.6 L440.6 32.5 L441.6 31.5 L442.7 30.5 L443.8 29.6 L444.9 28.7 L446.0 27.9 L447.2 27.1 L448.3 26.3 L449.6 25.6 L450.8 24.9 L452.0 24.2 L453.3 23.6 L454.6 23.0 L455.9 22.5 L457.3 21.9 L458.6 21.5 L460.0 21.0 L461.4 20.6 L462.8 20.2 L464.2 19.8 L465.6 19.5 L467.1 19.1 L468.5 18.9 L470.0 18.6 L471.5 18.3 L473.0 18.1 L474.5 17.9 L476.0 17.8 L477.5 17.6 L479.1 17.5 L480.6 17.3 L482.2 17.2 L483.7 17.2 L485.3 17.1 L486.8 17.0 L488.4 17.0 L490.0 17.0 L491.6 17.0 L493.1 17.0 L494.7 17.0 L496.3 17.0 L497.8 17.0 L499.4 17.0 L501.0 17.1 L502.5 17.1 L504.1 17.2 L505.7 17.2 L507.2 17.3 L508.8 17.4 L510.3 17.4 L511.8 17.5 L513.3 17.5 L514.9 17.6 L516.4 17.7 L517.9 17.7 L519.3 17.8 L520.8 17.8 L522.3 17.9 L523.7 17.9 L525.2 18.0 L526.6 18.1 L528.1 18.1 L529.5 18.2 L530.9 18.2 L532.4 18.3 L533.8 18.4 L535.2 18.5 L536.6 18.6 L538.0 18.7 L539.5 18.8 L540.9 18.9 L542.3 19.0 L543.7 19.2 L545.1 19.3 L546.6 19.5 L548.0 19.7 L549.4 19.9 L550.9 20.1 L552.3 20.3 L553.8 20.6 L555.3 20.8 L556.7 21.1 L558.2 21.3 L559.7 21.6 L561.2 21.9 L562.6 22.2 L564.1 22.5 L565.6 22.8 L567.1 23.1 L568.6 23.5 L570.1 23.8 L571.6 24.1 L573.1 24.3 L574.6 24.6 L576.1 24.9 L577.6 25.2 L579.1 25.4 L580.6 25.7 L582.1 25.9 L583.6 26.1 L585.1 26.3 L586.6 26.5 L588.1 26.7 L589.6 26.9 L591.1 27.0 L592.6 27.2 L594.1 27.3 L595.6 27.5 L597.1 27.6 L598.6 27.7 L600.1 27.8 L601.6 27.9 L603.1 28.1 L604.6 28.2 L606.1 28.2 L607.6 28.3 L609.1 28.4 L610.6 28.5 L612.0 28.6 L613.5 28.7 L615.0 28.7 L616.5 28.8 L618.0 28.9 L619.5 29.0 L621.0 29.0 L622.5 29.1 L624.0 29.2 L625.5 29.3 L627.0 29.3 L628.5 29.4 L630.0 29.5 L631.5 29.5 L633.0 29.6 L634.4 29.6 L635.9 29.7 L637.4 29.8 L638.9 29.8 L640.4 29.9 L641.9 30.0 L643.4 30.0 L644.9 30.1 L646.4 30.1 L647.9 30.2 L649.4 30.2 L650.9 30.3 L652.4 30.4 L653.9 30.4 L655.4 30.5 L656.9 30.5 L658.4 30.6 L659.9 30.6 L661.4 30.7 L662.8 30.7 L664.3 30.8 L665.8 30.8 L667.3 30.9 L668.8 30.9 L670.3 30.9 L671.8 31.0 L673.3 31.0 L674.8 31.1 L676.3 31.1 L677.8 31.2 L679.3 31.2 L680.8 31.2 L682.3 31.3 L683.8 31.3 L685.3 31.3 L686.8 31.4 L688.3 31.4 L689.8 31.5 L691.3 31.5 L692.8 31.5 L694.3 31.6 L695.8 31.6 L697.3 31.6 L698.8 31.6 L700.3 31.7 L701.8 31.7 L703.3 31.7 L704.8 31.8 L706.3 31.8 L707.8 31.8 L709.3 31.8 L710.8 31.9 L712.2 31.9 L713.7 31.9 L715.2 31.9 L716.7 32.0 L718.2 32.0 L719.7 32.0 L721.2 32.0 L722.7 32.1 L724.2 32.1 L725.7 32.1 L727.2 32.1 L728.7 32.1 L730.2 32.1 L731.7 32.2 L733.2 32.2 L734.7 32.2 L736.2 32.2 L737.7 32.2 L739.2 32.2 L740.7 32.2 L742.2 32.3 L743.7 32.3 L745.2 32.3 L746.7 32.3 L748.2 32.3 L749.7 32.3 L751.2 32.3 L752.7 32.3 L754.2 32.3 L755.7 32.3 L757.2 32.4 L758.7 32.4 L760.2 32.4 L761.7 32.4 L763.2 32.4 L764.7 32.4 L766.2 32.4 L767.7 32.4 L769.2 32.4 L770.7 32.4 L772.2 32.4 L773.7 32.4 L775.2 32.4 L776.7 32.4 L778.2 32.4 L779.7 32.4 L781.2 32.4 L782.7 32.4 L784.2 32.4 L785.7 32.4 L787.2 32.4 L788.7 32.4 L790.2 32.4 L791.7 32.4 L793.2 32.4 L794.7 32.4 L796.2 32.3 L797.7 32.3 L799.2 32.3 L800.7 32.3 L802.2 32.3 L803.7 32.3 L805.2 32.3 L806.7 32.3 L808.2 32.3 L809.7 32.3 L811.2 32.3 L812.7 32.3 L814.2 32.2 L815.7 32.2 L817.2 32.2 L818.7 32.2 L820.2 32.2 L821.7 32.2 L823.2 32.2 L824.7 32.1 L826.2 32.1 L827.7 32.1 L829.2 32.1 L830.7 32.1 L832.2 32.1 L833.7 32.1 L835.2 32.0 L836.7 32.0 L838.2 32.0 L839.7 32.0 L841.2 32.0 L842.7 32.0 L844.2 31.9 L845.7 31.9 L847.2 31.9 L848.7 31.9 L850.2 31.9 L851.7 31.8 L853.2 31.8 L854.7 31.8 L856.2 31.8 L857.7 31.8 L859.2 31.7 L860.7 31.7 L862.2 31.7 L863.7 31.7 L865.2 31.6 L866.7 31.6 L868.2 31.6 L869.7 31.6 L871.2 31.5 L872.7 31.5 L874.2 31.5 L875.7 31.5 L877.2 31.5 L878.7 31.4 L880.2 31.4 L881.7 31.4 L883.2 31.3 L884.7 31.3 L886.2 31.3 L887.7 31.3 L889.2 31.2 L890.7 31.2 L892.2 31.2 L893.7 31.2 L895.2 31.1 L896.7 31.1 L898.2 31.1 L899.7 31.0 L901.2 31.0 L902.7 31.0 L904.2 31.0 L905.7 30.9 L907.2 30.9 L908.7 30.9 L910.2 30.8 L911.7 30.8 L913.2 30.8 L914.7 30.8 L916.2 30.7 L917.7 30.7 L919.2 30.7 L920.7 30.6 L922.2 30.6 L923.7 30.6 L925.2 30.5 L926.7 30.5 L928.2 30.5 L929.6 30.5 L931.1 30.4 L932.6 30.4 L934.1 30.4 L935.6 30.3 L937.1 30.3 L938.6 30.3 L940.1 30.2 L941.6 30.2 L943.1 30.2 L944.6 30.1 L946.1 30.1 L947.6 30.1 L949.1 30.0 L950.6 30.0 L952.1 30.0 L953.6 29.9 L955.1 29.9 L956.6 29.9 L958.1 29.8 L959.6 29.8 L961.1 29.8 L962.6 29.7 L964.1 29.7 L965.6 29.7 L967.1 29.6 L968.6 29.6 L970.1 29.6 L971.6 29.5 L973.1 29.5 L974.6 29.5 L976.1 29.4 L977.6 29.4 L979.0 29.4 L980.5 29.3 L982.0 29.3 L983.5 29.3 L985.0 29.2 L986.5 29.2 L988.0 29.2 L989.5 29.2 L991.0 29.1 L992.5 29.1 L994.0 29.1 L995.5 29.0 L997.0 29.0"/>
</g>
<g fill="none" stroke="#858585">
<line x1="996" y1="16.4" x2="996" y2="698.9" stroke-width="1.15"/>
<line x1="109.2" y1="16.9" x2="996" y2="16.9" stroke-width="1.2"/>
<line x1="109.2" y1="698.4" x2="996" y2="698.4" stroke-width="1.1"/>
</g>
<g fill="#000">
<rect x="109.2" y="17.1" width="3.2" height="1.7"/>
<rect x="219.5" y="17.1" width="3.2" height="1.7"/>
<rect x="330.7" y="17.1" width="3.2" height="1.7"/>
<rect x="441.2" y="17.1" width="3.2" height="1.7"/>
<rect x="552.6" y="17.1" width="3.2" height="1.7"/>
<rect x="662.4" y="17.1" width="3.2" height="1.7"/>
<rect x="774" y="17.1" width="3.2" height="1.7"/>
<rect x="884.1" y="17.1" width="3.2" height="1.7"/>
<rect x="996" y="17.1" width="3.2" height="1.7"/>
<rect x="996" y="698.5" width="3.2" height="1.6"/>
<rect x="996" y="630.3" width="3.2" height="1.6"/>
<rect x="996" y="561.8" width="3.2" height="1.6"/>
<rect x="996" y="493.5" width="3.2" height="1.6"/>
<rect x="996" y="425.1" width="3.2" height="1.6"/>
<rect x="996" y="356.9" width="3.2" height="1.6"/>
<rect x="996" y="288.7" width="3.2" height="1.6"/>
<rect x="996" y="220.5" width="3.2" height="1.6"/>
<rect x="996" y="152.1" width="3.2" height="1.6"/>
<rect x="996" y="83.7" width="3.2" height="1.6"/>
<rect x="996" y="17" width="3.2" height="1.6"/>
</g>
<text class="tk" x="109.5" y="725.2" text-anchor="middle">400</text>
<text class="tk" x="219.8" y="725.2" text-anchor="middle">450</text>
<text class="tk" x="331" y="725.2" text-anchor="middle">500</text>
<text class="tk" x="441.5" y="725.2" text-anchor="middle">550</text>
<text class="tk" x="552.9" y="725.2" text-anchor="middle">600</text>
<text class="tk" x="662.7" y="725.2" text-anchor="middle">650</text>
<text class="tk" x="774.3" y="725.2" text-anchor="middle">700</text>
<text class="tk" x="884.4" y="725.2" text-anchor="middle">750</text>
<text class="tk" x="996.3" y="725.2" text-anchor="middle">800</text>
<text class="tk" x="103.3" y="707.3" text-anchor="end">0</text>
<text class="tk" x="103.3" y="639.1" text-anchor="end">10</text>
<text class="tk" x="103.3" y="570.6" text-anchor="end">20</text>
<text class="tk" x="103.3" y="502.3" text-anchor="end">30</text>
<text class="tk" x="103.3" y="433.9" text-anchor="end">40</text>
<text class="tk" x="103.3" y="365.7" text-anchor="end">50</text>
<text class="tk" x="103.3" y="297.5" text-anchor="end">60</text>
<text class="tk" x="103.3" y="229.3" text-anchor="end">70</text>
<text class="tk" x="103.3" y="160.9" text-anchor="end">80</text>
<text class="tk" x="103.3" y="92.5" text-anchor="end">90</text>
<text class="tk" x="103.3" y="25.8" text-anchor="end">100</text>
<text class="lab" x="368.0 414.0 439.8 462.8 490.6 501.8 527.9 553.6 579.1 592.1 620.2 637.8 665.4 706.9" y="776.9">Wavelength(nm)</text>
<text class="lab" style="font-size:47.6px" transform="translate(40.7,0) rotate(-90) scale(1,1.08)" x="-519.9 -486.3 -458.5 -446.4 -434.7 -409.1 -384.6 -372.4 -345.3 -318.4 -294.4 -267.8 -250.9 -209.1" y="0">Reflectance(%)</text>
<rect x="642.3" y="226.2" width="274.2" height="160.2" fill="#fff" stroke="#858585" stroke-width="1"/>
<g fill="#000">
<rect x="642.8" y="225.6" width="2.5" height="1.5"/>
<rect x="917" y="225.6" width="3" height="1.5"/>
<rect x="917" y="386.2" width="3" height="1.5"/>
</g>
<line x1="654.9" y1="244.3" x2="715.8" y2="244.3" stroke="#0000ff" stroke-width="6.4"/>
<text class="leg" x="722.6" y="254.4">1 Layer DBR + Al</text>
<line x1="654.9" y1="275.1" x2="715.8" y2="275.1" stroke="#008000" stroke-width="6.4"/>
<text class="leg" x="722.6" y="285.2">2 Layer DBR + Al</text>
<line x1="654.9" y1="306.4" x2="715.8" y2="306.4" stroke="#ff0000" stroke-width="6.4"/>
<text class="leg" x="722.6" y="316.3">3 Layer DBR + Al</text>
<line x1="654.9" y1="336" x2="715.8" y2="336" stroke="#00bfbf" stroke-width="6.4"/>
<text class="leg" x="722.6" y="345.6">4 Layer DBR + Al</text>
<line x1="654.9" y1="367.4" x2="715.8" y2="367.4" stroke="#bf00bf" stroke-width="6.4"/>
<text class="leg" x="722.6" y="376.9">5 Layer DBR + Al</text>
</svg>
</body></html>
